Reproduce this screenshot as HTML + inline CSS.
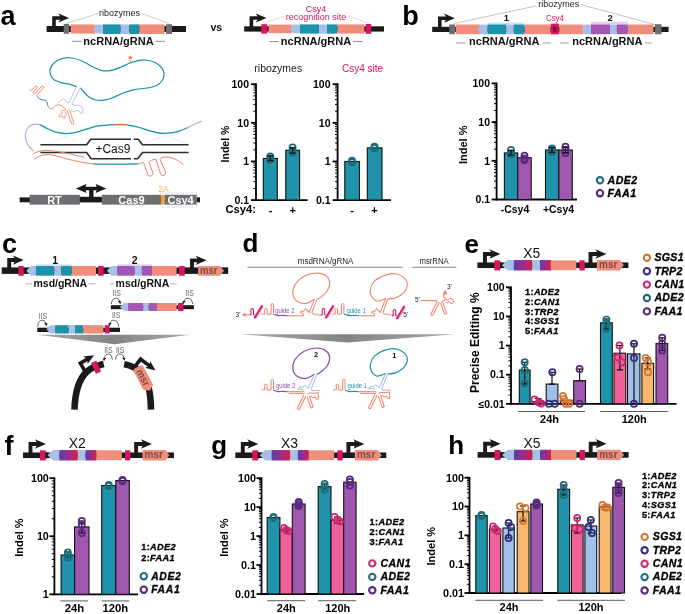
<!DOCTYPE html>
<html><head><meta charset="utf-8"><title>Figure</title>
<style>
html,body{margin:0;padding:0;background:#fff;}
body{width:685px;height:614px;overflow:hidden;font-family:'Liberation Sans', Arial, sans-serif;}
svg{display:block;font-family:"Liberation Sans", Arial, sans-serif;}
</style></head><body>
<svg width="685" height="614" viewBox="0 0 685 614">
<defs>
<linearGradient id="gr" x1="0" x2="1" y1="0" y2="0"><stop offset="0" stop-color="#5a3fa8"/><stop offset="0.55" stop-color="#a02a8c"/><stop offset="1" stop-color="#d8203f"/></linearGradient>
<linearGradient id="tri" x1="0" x2="1" y1="0" y2="0"><stop offset="0" stop-color="#a8a8a8"/><stop offset="0.5" stop-color="#858585"/><stop offset="1" stop-color="#a8a8a8"/></linearGradient>
</defs>
<rect width="685" height="614" fill="#fff"/>
<text x="0.50" y="25.00" font-size="27" font-weight="bold" font-style="normal" fill="#000" text-anchor="start" >a</text>
<text x="402.20" y="25.00" font-size="27" font-weight="bold" font-style="normal" fill="#000" text-anchor="start" >b</text>
<text x="2.10" y="252.80" font-size="27" font-weight="bold" font-style="normal" fill="#000" text-anchor="start" >c</text>
<text x="242.50" y="252.30" font-size="26" font-weight="bold" font-style="normal" fill="#000" text-anchor="start" >d</text>
<text x="464.60" y="252.60" font-size="26" font-weight="bold" font-style="normal" fill="#000" text-anchor="start" >e</text>
<text x="4.50" y="455.00" font-size="27" font-weight="bold" font-style="normal" fill="#000" text-anchor="start" >f</text>
<text x="211.30" y="453.90" font-size="26" font-weight="bold" font-style="normal" fill="#000" text-anchor="start" >g</text>
<text x="448.20" y="454.10" font-size="26" font-weight="bold" font-style="normal" fill="#000" text-anchor="start" >h</text>
<rect x="46.60" y="26.00" width="139.40" height="6.00" fill="#1a1a1a" />
<path d="M52.20 27.00 V16.20 H61.90 V19.80 H55.80 V27.00 Z" fill="#1a1a1a"/>
<path d="M69.10 18.00 L58.40 13.40 L61.10 18.00 L58.40 22.60 Z" fill="#1a1a1a"/>
<rect x="63.70" y="23.90" width="5.40" height="9.90" fill="#6d6e71" />
<rect x="70.70" y="24.40" width="24.80" height="9.20" fill="#f08d7b" />
<path d="M93.30 29.00 L96.30 24.40 H103.00 V33.60 H96.30 Z" fill="#a9bfe8"/>
<rect x="103.00" y="24.40" width="17.60" height="9.60" fill="#1a93ab" />
<rect x="120.60" y="24.40" width="8.80" height="9.60" fill="#a9bfe8" />
<rect x="129.40" y="24.40" width="10.00" height="9.60" fill="#1a93ab" />
<rect x="139.40" y="24.40" width="25.10" height="9.60" fill="#f08d7b" />
<rect x="166.00" y="24.20" width="6.00" height="9.80" fill="#6d6e71" />
<text x="119.50" y="16.30" font-size="9" font-weight="normal" font-style="normal" fill="#222" text-anchor="middle" >ribozymes</text>
<line x1="66.50" y1="23.50" x2="98.00" y2="13.50" stroke="#999" stroke-width="0.5" />
<line x1="169.00" y1="23.50" x2="142.00" y2="13.50" stroke="#999" stroke-width="0.5" />
<text x="118.50" y="44.60" font-size="11" font-weight="bold" font-style="normal" fill="#111" text-anchor="middle" >ncRNA/gRNA</text>
<line x1="72.00" y1="41.30" x2="81.50" y2="41.30" stroke="#777" stroke-width="0.8" />
<line x1="155.50" y1="41.30" x2="165.00" y2="41.30" stroke="#777" stroke-width="0.8" />
<text x="210.50" y="31.00" font-size="10.5" font-weight="bold" font-style="normal" fill="#111" text-anchor="start" >vs</text>
<rect x="244.20" y="26.30" width="139.80" height="5.30" fill="#1a1a1a" />
<path d="M249.60 27.00 V16.20 H259.30 V19.80 H253.20 V27.00 Z" fill="#1a1a1a"/>
<path d="M266.50 18.00 L255.80 13.40 L258.50 18.00 L255.80 22.60 Z" fill="#1a1a1a"/>
<rect x="261.30" y="24.20" width="5.90" height="9.40" fill="#d6145f" />
<rect x="268.50" y="24.60" width="23.50" height="8.60" fill="#f08d7b" />
<path d="M290.00 28.90 L293.00 24.60 H300.00 V33.20 H293.00 Z" fill="#a9bfe8"/>
<rect x="300.00" y="24.40" width="19.00" height="9.20" fill="#1a93ab" />
<rect x="319.00" y="24.40" width="8.00" height="9.20" fill="#a9bfe8" />
<rect x="327.00" y="24.40" width="10.50" height="9.20" fill="#1a93ab" />
<rect x="337.50" y="24.40" width="26.90" height="9.20" fill="#f08d7b" />
<rect x="365.60" y="24.00" width="5.60" height="9.80" fill="#d6145f" />
<text x="316.00" y="12.30" font-size="9" font-weight="normal" font-style="normal" fill="#d6145f" text-anchor="middle" >Csy4</text>
<text x="316.00" y="20.30" font-size="9" font-weight="normal" font-style="normal" fill="#d6145f" text-anchor="middle" >recognition site</text>
<line x1="264.00" y1="23.50" x2="284.00" y2="16.00" stroke="#d6145f" stroke-width="0.4" stroke-dasharray="1 1"/>
<line x1="368.50" y1="23.50" x2="349.00" y2="16.00" stroke="#d6145f" stroke-width="0.4" stroke-dasharray="1 1"/>
<text x="316.00" y="44.70" font-size="11" font-weight="bold" font-style="normal" fill="#111" text-anchor="middle" >ncRNA/gRNA</text>
<line x1="269.40" y1="41.50" x2="278.60" y2="41.50" stroke="#777" stroke-width="0.8" />
<line x1="353.00" y1="41.50" x2="362.50" y2="41.50" stroke="#777" stroke-width="0.8" />
<rect x="432.20" y="26.80" width="236.40" height="5.20" fill="#1a1a1a" />
<path d="M438.00 27.50 V16.40 H447.60 V20.00 H441.60 V27.50 Z" fill="#1a1a1a"/>
<path d="M454.80 18.20 L444.10 13.60 L446.80 18.20 L444.10 22.80 Z" fill="#1a1a1a"/>
<rect x="449.30" y="24.50" width="5.70" height="9.70" fill="#6d6e71" />
<rect x="455.70" y="24.50" width="24.30" height="9.70" fill="#f08d7b" />
<path d="M477.50 29.35 L480.50 24.50 H487.60 V34.20 H480.50 Z" fill="#a9bfe8"/>
<rect x="487.60" y="22.60" width="37.00" height="2.00" fill="#cfe3f3" />
<rect x="487.60" y="24.50" width="18.60" height="9.70" fill="#1a93ab" />
<rect x="506.20" y="24.50" width="7.60" height="9.70" fill="#a9bfe8" />
<rect x="513.80" y="24.50" width="10.80" height="9.70" fill="#1a93ab" />
<rect x="524.60" y="24.50" width="26.00" height="9.70" fill="#f08d7b" />
<rect x="550.80" y="23.60" width="8.10" height="10.70" fill="#d6145f" />
<rect x="553.00" y="26.80" width="3.70" height="5.20" fill="#8e0c3f" />
<rect x="559.30" y="24.50" width="24.20" height="9.70" fill="#f08d7b" />
<path d="M581.50 29.35 L584.50 24.50 H591.00 V34.20 H584.50 Z" fill="#a9bfe8"/>
<rect x="591.00" y="21.80" width="36.80" height="2.80" fill="#e3cfeb" />
<rect x="591.00" y="24.50" width="19.00" height="9.70" fill="#a257b5" />
<rect x="610.00" y="24.50" width="6.90" height="9.70" fill="#a9bfe8" />
<rect x="616.90" y="24.50" width="10.90" height="9.70" fill="#a257b5" />
<rect x="627.80" y="24.50" width="25.70" height="9.70" fill="#f08d7b" />
<rect x="655.00" y="24.20" width="6.50" height="10.10" fill="#6d6e71" />
<text x="558.80" y="7.30" font-size="9" font-weight="normal" font-style="normal" fill="#222" text-anchor="middle" >ribozymes</text>
<line x1="453.50" y1="23.70" x2="536.50" y2="5.80" stroke="#888" stroke-width="0.5" />
<line x1="656.40" y1="25.00" x2="581.00" y2="4.60" stroke="#888" stroke-width="0.5" />
<text x="506.40" y="20.90" font-size="9.5" font-weight="bold" font-style="normal" fill="#111" text-anchor="middle" >1</text>
<text x="610.10" y="21.00" font-size="9.5" font-weight="bold" font-style="normal" fill="#111" text-anchor="middle" >2</text>
<text x="554.90" y="21.40" font-size="9" font-weight="normal" font-style="normal" fill="#d6145f" text-anchor="middle" textLength="17.8" lengthAdjust="spacingAndGlyphs">Csy4</text>
<text x="504.20" y="45.40" font-size="11" font-weight="bold" font-style="normal" fill="#111" text-anchor="middle" >ncRNA/gRNA</text>
<text x="607.30" y="45.40" font-size="11" font-weight="bold" font-style="normal" fill="#111" text-anchor="middle" >ncRNA/gRNA</text>
<line x1="456.30" y1="43.00" x2="465.80" y2="43.00" stroke="#888" stroke-width="0.8" />
<line x1="542.70" y1="43.00" x2="550.60" y2="43.00" stroke="#888" stroke-width="0.8" />
<line x1="559.70" y1="43.00" x2="569.10" y2="43.00" stroke="#888" stroke-width="0.8" />
<line x1="645.10" y1="43.00" x2="652.30" y2="43.00" stroke="#888" stroke-width="0.8" />
<line x1="256.00" y1="83.30" x2="256.00" y2="201.00" stroke="#000" stroke-width="1.8" />
<line x1="255.10" y1="200.10" x2="307.60" y2="200.10" stroke="#000" stroke-width="1.8" />
<line x1="251.00" y1="84.20" x2="256.00" y2="84.20" stroke="#000" stroke-width="1.8" />
<text x="249.00" y="87.98" font-size="10.5" font-weight="bold" font-style="normal" fill="#000" text-anchor="end" >100</text>
<line x1="253.40" y1="111.20" x2="256.00" y2="111.20" stroke="#000" stroke-width="1" />
<line x1="253.40" y1="104.40" x2="256.00" y2="104.40" stroke="#000" stroke-width="1" />
<line x1="253.40" y1="99.57" x2="256.00" y2="99.57" stroke="#000" stroke-width="1" />
<line x1="253.40" y1="95.83" x2="256.00" y2="95.83" stroke="#000" stroke-width="1" />
<line x1="253.40" y1="92.77" x2="256.00" y2="92.77" stroke="#000" stroke-width="1" />
<line x1="253.40" y1="90.18" x2="256.00" y2="90.18" stroke="#000" stroke-width="1" />
<line x1="253.40" y1="87.94" x2="256.00" y2="87.94" stroke="#000" stroke-width="1" />
<line x1="253.40" y1="85.97" x2="256.00" y2="85.97" stroke="#000" stroke-width="1" />
<line x1="251.00" y1="122.83" x2="256.00" y2="122.83" stroke="#000" stroke-width="1.8" />
<text x="249.00" y="126.61" font-size="10.5" font-weight="bold" font-style="normal" fill="#000" text-anchor="end" >10</text>
<line x1="253.40" y1="149.84" x2="256.00" y2="149.84" stroke="#000" stroke-width="1" />
<line x1="253.40" y1="143.03" x2="256.00" y2="143.03" stroke="#000" stroke-width="1" />
<line x1="253.40" y1="138.21" x2="256.00" y2="138.21" stroke="#000" stroke-width="1" />
<line x1="253.40" y1="134.46" x2="256.00" y2="134.46" stroke="#000" stroke-width="1" />
<line x1="253.40" y1="131.40" x2="256.00" y2="131.40" stroke="#000" stroke-width="1" />
<line x1="253.40" y1="128.82" x2="256.00" y2="128.82" stroke="#000" stroke-width="1" />
<line x1="253.40" y1="126.58" x2="256.00" y2="126.58" stroke="#000" stroke-width="1" />
<line x1="253.40" y1="124.60" x2="256.00" y2="124.60" stroke="#000" stroke-width="1" />
<line x1="251.00" y1="161.47" x2="256.00" y2="161.47" stroke="#000" stroke-width="1.8" />
<text x="249.00" y="165.25" font-size="10.5" font-weight="bold" font-style="normal" fill="#000" text-anchor="end" >1</text>
<line x1="253.40" y1="188.47" x2="256.00" y2="188.47" stroke="#000" stroke-width="1" />
<line x1="253.40" y1="181.67" x2="256.00" y2="181.67" stroke="#000" stroke-width="1" />
<line x1="253.40" y1="176.84" x2="256.00" y2="176.84" stroke="#000" stroke-width="1" />
<line x1="253.40" y1="173.10" x2="256.00" y2="173.10" stroke="#000" stroke-width="1" />
<line x1="253.40" y1="170.04" x2="256.00" y2="170.04" stroke="#000" stroke-width="1" />
<line x1="253.40" y1="167.45" x2="256.00" y2="167.45" stroke="#000" stroke-width="1" />
<line x1="253.40" y1="165.21" x2="256.00" y2="165.21" stroke="#000" stroke-width="1" />
<line x1="253.40" y1="163.23" x2="256.00" y2="163.23" stroke="#000" stroke-width="1" />
<line x1="251.00" y1="200.10" x2="256.00" y2="200.10" stroke="#000" stroke-width="1.8" />
<text x="249.00" y="203.88" font-size="10.5" font-weight="bold" font-style="normal" fill="#000" text-anchor="end" >0.1</text>
<rect x="263.30" y="158.41" width="14.00" height="41.69" fill="#1f93ab" stroke="#111" stroke-width="1.1"/>
<rect x="285.80" y="150.26" width="13.80" height="49.84" fill="#1f93ab" stroke="#111" stroke-width="1.1"/>
<circle cx="270.30" cy="156.43" r="3.1" fill="none" stroke="#1c6d79" stroke-width="1.7"/>
<circle cx="270.30" cy="159.87" r="3.1" fill="none" stroke="#1c6d79" stroke-width="1.7"/>
<circle cx="270.30" cy="158.41" r="3.1" fill="none" stroke="#1c6d79" stroke-width="1.7"/>
<line x1="270.30" y1="155.82" x2="270.30" y2="160.65" stroke="#111" stroke-width="1.2" />
<line x1="267.10" y1="155.82" x2="273.50" y2="155.82" stroke="#111" stroke-width="1.2" />
<line x1="267.10" y1="160.65" x2="273.50" y2="160.65" stroke="#111" stroke-width="1.2" />
<circle cx="292.60" cy="147.49" r="3.1" fill="none" stroke="#1c6d79" stroke-width="1.7"/>
<circle cx="292.60" cy="152.56" r="3.1" fill="none" stroke="#1c6d79" stroke-width="1.7"/>
<circle cx="292.60" cy="150.70" r="3.1" fill="none" stroke="#1c6d79" stroke-width="1.7"/>
<line x1="292.60" y1="147.86" x2="292.60" y2="153.06" stroke="#111" stroke-width="1.2" />
<line x1="289.40" y1="147.86" x2="295.80" y2="147.86" stroke="#111" stroke-width="1.2" />
<line x1="289.40" y1="153.06" x2="295.80" y2="153.06" stroke="#111" stroke-width="1.2" />
<text x="278.30" y="71.80" font-size="10.5" font-weight="normal" font-style="normal" fill="#222" text-anchor="middle" >ribozymes</text>
<text transform="translate(229.30 144.00) rotate(-90)" font-size="10.5" font-weight="bold" fill="#000" text-anchor="middle">Indel %</text>
<text x="256.00" y="213.10" font-size="11.2" font-weight="bold" font-style="normal" fill="#000" text-anchor="end" >Csy4:</text>
<text x="270.60" y="214.00" font-size="11" font-weight="bold" font-style="normal" fill="#000" text-anchor="middle" >-</text>
<text x="292.60" y="214.00" font-size="11" font-weight="bold" font-style="normal" fill="#000" text-anchor="middle" >+</text>
<line x1="337.60" y1="83.30" x2="337.60" y2="201.00" stroke="#000" stroke-width="1.8" />
<line x1="336.70" y1="200.10" x2="391.00" y2="200.10" stroke="#000" stroke-width="1.8" />
<line x1="332.60" y1="84.20" x2="337.60" y2="84.20" stroke="#000" stroke-width="1.8" />
<text x="330.50" y="87.98" font-size="10.5" font-weight="bold" font-style="normal" fill="#000" text-anchor="end" >100</text>
<line x1="335.00" y1="111.20" x2="337.60" y2="111.20" stroke="#000" stroke-width="1" />
<line x1="335.00" y1="104.40" x2="337.60" y2="104.40" stroke="#000" stroke-width="1" />
<line x1="335.00" y1="99.57" x2="337.60" y2="99.57" stroke="#000" stroke-width="1" />
<line x1="335.00" y1="95.83" x2="337.60" y2="95.83" stroke="#000" stroke-width="1" />
<line x1="335.00" y1="92.77" x2="337.60" y2="92.77" stroke="#000" stroke-width="1" />
<line x1="335.00" y1="90.18" x2="337.60" y2="90.18" stroke="#000" stroke-width="1" />
<line x1="335.00" y1="87.94" x2="337.60" y2="87.94" stroke="#000" stroke-width="1" />
<line x1="335.00" y1="85.97" x2="337.60" y2="85.97" stroke="#000" stroke-width="1" />
<line x1="332.60" y1="122.83" x2="337.60" y2="122.83" stroke="#000" stroke-width="1.8" />
<text x="330.50" y="126.61" font-size="10.5" font-weight="bold" font-style="normal" fill="#000" text-anchor="end" >10</text>
<line x1="335.00" y1="149.84" x2="337.60" y2="149.84" stroke="#000" stroke-width="1" />
<line x1="335.00" y1="143.03" x2="337.60" y2="143.03" stroke="#000" stroke-width="1" />
<line x1="335.00" y1="138.21" x2="337.60" y2="138.21" stroke="#000" stroke-width="1" />
<line x1="335.00" y1="134.46" x2="337.60" y2="134.46" stroke="#000" stroke-width="1" />
<line x1="335.00" y1="131.40" x2="337.60" y2="131.40" stroke="#000" stroke-width="1" />
<line x1="335.00" y1="128.82" x2="337.60" y2="128.82" stroke="#000" stroke-width="1" />
<line x1="335.00" y1="126.58" x2="337.60" y2="126.58" stroke="#000" stroke-width="1" />
<line x1="335.00" y1="124.60" x2="337.60" y2="124.60" stroke="#000" stroke-width="1" />
<line x1="332.60" y1="161.47" x2="337.60" y2="161.47" stroke="#000" stroke-width="1.8" />
<text x="330.50" y="165.25" font-size="10.5" font-weight="bold" font-style="normal" fill="#000" text-anchor="end" >1</text>
<line x1="335.00" y1="188.47" x2="337.60" y2="188.47" stroke="#000" stroke-width="1" />
<line x1="335.00" y1="181.67" x2="337.60" y2="181.67" stroke="#000" stroke-width="1" />
<line x1="335.00" y1="176.84" x2="337.60" y2="176.84" stroke="#000" stroke-width="1" />
<line x1="335.00" y1="173.10" x2="337.60" y2="173.10" stroke="#000" stroke-width="1" />
<line x1="335.00" y1="170.04" x2="337.60" y2="170.04" stroke="#000" stroke-width="1" />
<line x1="335.00" y1="167.45" x2="337.60" y2="167.45" stroke="#000" stroke-width="1" />
<line x1="335.00" y1="165.21" x2="337.60" y2="165.21" stroke="#000" stroke-width="1" />
<line x1="335.00" y1="163.23" x2="337.60" y2="163.23" stroke="#000" stroke-width="1" />
<line x1="332.60" y1="200.10" x2="337.60" y2="200.10" stroke="#000" stroke-width="1.8" />
<text x="330.50" y="203.88" font-size="10.5" font-weight="bold" font-style="normal" fill="#000" text-anchor="end" >0.1</text>
<rect x="344.80" y="161.47" width="14.60" height="38.63" fill="#1f93ab" stroke="#111" stroke-width="1.1"/>
<rect x="367.30" y="147.86" width="14.70" height="52.24" fill="#1f93ab" stroke="#111" stroke-width="1.1"/>
<circle cx="352.00" cy="161.47" r="3.1" fill="none" stroke="#1c6d79" stroke-width="1.7"/>
<circle cx="352.00" cy="160.65" r="3.1" fill="none" stroke="#1c6d79" stroke-width="1.7"/>
<circle cx="352.00" cy="162.33" r="3.1" fill="none" stroke="#1c6d79" stroke-width="1.7"/>
<circle cx="374.50" cy="147.49" r="3.1" fill="none" stroke="#1c6d79" stroke-width="1.7"/>
<circle cx="374.50" cy="148.24" r="3.1" fill="none" stroke="#1c6d79" stroke-width="1.7"/>
<circle cx="374.50" cy="146.78" r="3.1" fill="none" stroke="#1c6d79" stroke-width="1.7"/>
<text x="362.50" y="71.80" font-size="10" font-weight="normal" font-style="normal" fill="#d6145f" text-anchor="middle" >Csy4 site</text>
<text x="352.00" y="214.00" font-size="11" font-weight="bold" font-style="normal" fill="#000" text-anchor="middle" >-</text>
<text x="374.50" y="214.00" font-size="11" font-weight="bold" font-style="normal" fill="#000" text-anchor="middle" >+</text>
<line x1="496.60" y1="82.50" x2="496.60" y2="200.40" stroke="#000" stroke-width="1.8" />
<line x1="495.70" y1="199.50" x2="577.00" y2="199.50" stroke="#000" stroke-width="1.8" />
<line x1="491.60" y1="83.40" x2="496.60" y2="83.40" stroke="#000" stroke-width="1.8" />
<text x="490.00" y="87.18" font-size="10.5" font-weight="bold" font-style="normal" fill="#000" text-anchor="end" >100</text>
<line x1="494.00" y1="110.45" x2="496.60" y2="110.45" stroke="#000" stroke-width="1" />
<line x1="494.00" y1="103.64" x2="496.60" y2="103.64" stroke="#000" stroke-width="1" />
<line x1="494.00" y1="98.80" x2="496.60" y2="98.80" stroke="#000" stroke-width="1" />
<line x1="494.00" y1="95.05" x2="496.60" y2="95.05" stroke="#000" stroke-width="1" />
<line x1="494.00" y1="91.99" x2="496.60" y2="91.99" stroke="#000" stroke-width="1" />
<line x1="494.00" y1="89.39" x2="496.60" y2="89.39" stroke="#000" stroke-width="1" />
<line x1="494.00" y1="87.15" x2="496.60" y2="87.15" stroke="#000" stroke-width="1" />
<line x1="494.00" y1="85.17" x2="496.60" y2="85.17" stroke="#000" stroke-width="1" />
<line x1="491.60" y1="122.10" x2="496.60" y2="122.10" stroke="#000" stroke-width="1.8" />
<text x="490.00" y="125.88" font-size="10.5" font-weight="bold" font-style="normal" fill="#000" text-anchor="end" >10</text>
<line x1="494.00" y1="149.15" x2="496.60" y2="149.15" stroke="#000" stroke-width="1" />
<line x1="494.00" y1="142.34" x2="496.60" y2="142.34" stroke="#000" stroke-width="1" />
<line x1="494.00" y1="137.50" x2="496.60" y2="137.50" stroke="#000" stroke-width="1" />
<line x1="494.00" y1="133.75" x2="496.60" y2="133.75" stroke="#000" stroke-width="1" />
<line x1="494.00" y1="130.69" x2="496.60" y2="130.69" stroke="#000" stroke-width="1" />
<line x1="494.00" y1="128.09" x2="496.60" y2="128.09" stroke="#000" stroke-width="1" />
<line x1="494.00" y1="125.85" x2="496.60" y2="125.85" stroke="#000" stroke-width="1" />
<line x1="494.00" y1="123.87" x2="496.60" y2="123.87" stroke="#000" stroke-width="1" />
<line x1="491.60" y1="160.80" x2="496.60" y2="160.80" stroke="#000" stroke-width="1.8" />
<text x="490.00" y="164.58" font-size="10.5" font-weight="bold" font-style="normal" fill="#000" text-anchor="end" >1</text>
<line x1="494.00" y1="187.85" x2="496.60" y2="187.85" stroke="#000" stroke-width="1" />
<line x1="494.00" y1="181.04" x2="496.60" y2="181.04" stroke="#000" stroke-width="1" />
<line x1="494.00" y1="176.20" x2="496.60" y2="176.20" stroke="#000" stroke-width="1" />
<line x1="494.00" y1="172.45" x2="496.60" y2="172.45" stroke="#000" stroke-width="1" />
<line x1="494.00" y1="169.39" x2="496.60" y2="169.39" stroke="#000" stroke-width="1" />
<line x1="494.00" y1="166.79" x2="496.60" y2="166.79" stroke="#000" stroke-width="1" />
<line x1="494.00" y1="164.55" x2="496.60" y2="164.55" stroke="#000" stroke-width="1" />
<line x1="494.00" y1="162.57" x2="496.60" y2="162.57" stroke="#000" stroke-width="1" />
<line x1="491.60" y1="199.50" x2="496.60" y2="199.50" stroke="#000" stroke-width="1.8" />
<text x="490.00" y="203.28" font-size="10.5" font-weight="bold" font-style="normal" fill="#000" text-anchor="end" >0.1</text>
<rect x="504.40" y="152.90" width="13.30" height="46.60" fill="#1f93ab" stroke="#111" stroke-width="1.1"/>
<rect x="517.70" y="157.74" width="13.50" height="41.76" fill="#9f58ae" stroke="#111" stroke-width="1.1"/>
<rect x="545.50" y="150.01" width="13.30" height="49.49" fill="#1f93ab" stroke="#111" stroke-width="1.1"/>
<rect x="558.80" y="150.01" width="13.50" height="49.49" fill="#9f58ae" stroke="#111" stroke-width="1.1"/>
<circle cx="511.00" cy="150.01" r="3.1" fill="none" stroke="#1c6d79" stroke-width="1.7"/>
<circle cx="511.00" cy="153.99" r="3.1" fill="none" stroke="#1c6d79" stroke-width="1.7"/>
<circle cx="511.00" cy="153.43" r="3.1" fill="none" stroke="#1c6d79" stroke-width="1.7"/>
<line x1="511.00" y1="150.46" x2="511.00" y2="155.14" stroke="#111" stroke-width="1.2" />
<line x1="507.80" y1="150.46" x2="514.20" y2="150.46" stroke="#111" stroke-width="1.2" />
<line x1="507.80" y1="155.14" x2="514.20" y2="155.14" stroke="#111" stroke-width="1.2" />
<circle cx="524.50" cy="155.76" r="3.1" fill="none" stroke="#58287c" stroke-width="1.7"/>
<circle cx="524.50" cy="158.45" r="3.1" fill="none" stroke="#58287c" stroke-width="1.7"/>
<circle cx="524.50" cy="159.98" r="3.1" fill="none" stroke="#58287c" stroke-width="1.7"/>
<circle cx="552.00" cy="148.33" r="3.1" fill="none" stroke="#1c6d79" stroke-width="1.7"/>
<circle cx="552.00" cy="151.88" r="3.1" fill="none" stroke="#1c6d79" stroke-width="1.7"/>
<circle cx="552.00" cy="150.01" r="3.1" fill="none" stroke="#1c6d79" stroke-width="1.7"/>
<line x1="552.00" y1="147.55" x2="552.00" y2="152.38" stroke="#111" stroke-width="1.2" />
<line x1="548.80" y1="147.55" x2="555.20" y2="147.55" stroke="#111" stroke-width="1.2" />
<line x1="548.80" y1="152.38" x2="555.20" y2="152.38" stroke="#111" stroke-width="1.2" />
<circle cx="565.50" cy="146.80" r="3.1" fill="none" stroke="#58287c" stroke-width="1.7"/>
<circle cx="565.50" cy="150.01" r="3.1" fill="none" stroke="#58287c" stroke-width="1.7"/>
<circle cx="565.50" cy="152.90" r="3.1" fill="none" stroke="#58287c" stroke-width="1.7"/>
<line x1="565.50" y1="147.17" x2="565.50" y2="152.90" stroke="#111" stroke-width="1.2" />
<line x1="562.30" y1="147.17" x2="568.70" y2="147.17" stroke="#111" stroke-width="1.2" />
<line x1="562.30" y1="152.90" x2="568.70" y2="152.90" stroke="#111" stroke-width="1.2" />
<text transform="translate(467.40 144.80) rotate(-90)" font-size="11" font-weight="bold" fill="#000" text-anchor="middle">Indel %</text>
<text x="515.00" y="213.00" font-size="10.5" font-weight="bold" font-style="normal" fill="#000" text-anchor="middle" >-Csy4</text>
<text x="558.50" y="213.00" font-size="10.5" font-weight="bold" font-style="normal" fill="#000" text-anchor="middle" >+Csy4</text>
<circle cx="600.00" cy="180.30" r="3.15" fill="none" stroke="#1c6d79" stroke-width="2.1"/>
<text x="607.60" y="183.60" font-size="10.6" font-weight="bold" font-style="italic" fill="#000" text-anchor="start" stroke="#000" stroke-width="0.3" letter-spacing="0.45">ADE2</text>
<circle cx="600.00" cy="193.20" r="3.15" fill="none" stroke="#58287c" stroke-width="2.1"/>
<text x="607.60" y="196.50" font-size="10.6" font-weight="bold" font-style="italic" fill="#000" text-anchor="start" stroke="#000" stroke-width="0.3" letter-spacing="0.45">FAA1</text>
<rect x="19.60" y="197.40" width="180.40" height="4.90" fill="#1a1a1a" />
<rect x="29.60" y="194.80" width="50.30" height="9.80" fill="#6d6e71" />
<rect x="79.90" y="196.80" width="21.90" height="5.40" fill="#1a1a1a" />
<rect x="101.80" y="194.80" width="59.20" height="9.80" fill="#6d6e71" />
<rect x="161.20" y="194.80" width="3.80" height="9.80" fill="#f7a234" />
<rect x="164.80" y="194.80" width="31.90" height="9.80" fill="#6d6e71" />
<rect x="161.3" y="193.1" width="35.1" height="14" fill="none" stroke="#b5b0d0" stroke-width="0.6" stroke-dasharray="1 0.8"/>
<text x="54.50" y="204.10" font-size="11" font-weight="bold" font-style="normal" fill="#fff" text-anchor="middle" >RT</text>
<text x="131.50" y="204.10" font-size="11" font-weight="bold" font-style="normal" fill="#fff" text-anchor="middle" >Cas9</text>
<text x="180.60" y="204.10" font-size="11" font-weight="bold" font-style="normal" fill="#fff" text-anchor="middle" >Csy4</text>
<text x="158.20" y="192.00" font-size="8.5" font-weight="normal" font-style="normal" fill="#f8b050" text-anchor="start" >2A</text>
<rect x="89.10" y="188.00" width="4.40" height="10.00" fill="#1a1a1a" />
<rect x="84.00" y="186.80" width="14.60" height="3.50" fill="#1a1a1a" />
<path d="M75.9 188.5 L86.5 184 L85.1 188.5 L86.5 192.9 Z" stroke="none" stroke-width="0" fill="#1a1a1a" />
<path d="M106.2 188.5 L95.7 184 L97.1 188.5 L95.7 192.9 Z" stroke="none" stroke-width="0" fill="#1a1a1a" />
<rect x="23.00" y="452.45" width="151.00" height="5.60" fill="#1a1a1a" />
<path d="M28.55 452.95 V442.10 H38.60 V446.00 H32.45 V452.95 Z" fill="#1a1a1a"/>
<path d="M46.00 444.05 L35.00 439.35 L37.80 444.05 L35.00 448.75 Z" fill="#1a1a1a"/>
<rect x="40.00" y="450.35" width="5.60" height="10.10" fill="#d6145f" />
<path d="M45.60 451.25 L49.50 455.25 L45.60 459.25 Z" stroke="none" stroke-width="0" fill="#1a1a1a" />
<path d="M47.50 455.25 L53.00 450.05 H59.60 V460.45 H53.00 Z" fill="#a9bfe8"/>
<rect x="59.40" y="450.05" width="18.4" height="10.4" fill="url(#gr)"/>
<rect x="77.80" y="450.05" width="7.80" height="10.40" fill="#a9bfe8" />
<rect x="85.60" y="450.05" width="11" height="10.4" fill="url(#gr)"/>
<rect x="96.40" y="450.35" width="25.50" height="9.80" fill="#f08d7b" />
<rect x="125.00" y="450.35" width="5.30" height="10.10" fill="#d6145f" />
<path d="M134.15 452.95 V442.10 H144.60 V446.00 H138.05 V452.95 Z" fill="#1a1a1a"/>
<path d="M152.00 444.05 L141.00 439.35 L143.80 444.05 L141.00 448.75 Z" fill="#1a1a1a"/>
<path d="M142.50 450.05 H165.40 L169.40 455.25 L165.40 460.45 H142.50 Z" fill="#f08d7b"/>
<text x="153.80" y="458.20" font-size="10.6" font-weight="bold" font-style="normal" fill="#7c4a45" text-anchor="middle" textLength="18.4" lengthAdjust="spacingAndGlyphs">msr</text>
<text x="77.30" y="448.40" font-size="15.3" font-weight="normal" font-style="normal" fill="#111" text-anchor="middle" textLength="17" lengthAdjust="spacingAndGlyphs">X2</text>
<rect x="235.30" y="452.45" width="151.00" height="5.60" fill="#1a1a1a" />
<path d="M240.85 452.95 V442.10 H250.90 V446.00 H244.75 V452.95 Z" fill="#1a1a1a"/>
<path d="M258.30 444.05 L247.30 439.35 L250.10 444.05 L247.30 448.75 Z" fill="#1a1a1a"/>
<rect x="252.30" y="450.35" width="5.60" height="10.10" fill="#d6145f" />
<path d="M257.90 451.25 L261.80 455.25 L257.90 459.25 Z" stroke="none" stroke-width="0" fill="#1a1a1a" />
<path d="M259.80 455.25 L265.30 450.05 H271.90 V460.45 H265.30 Z" fill="#a9bfe8"/>
<rect x="271.70" y="450.05" width="18.4" height="10.4" fill="url(#gr)"/>
<rect x="290.10" y="450.05" width="7.80" height="10.40" fill="#a9bfe8" />
<rect x="297.90" y="450.05" width="11" height="10.4" fill="url(#gr)"/>
<rect x="308.70" y="450.35" width="25.50" height="9.80" fill="#f08d7b" />
<rect x="337.30" y="450.35" width="5.30" height="10.10" fill="#d6145f" />
<path d="M346.45 452.95 V442.10 H356.90 V446.00 H350.35 V452.95 Z" fill="#1a1a1a"/>
<path d="M364.30 444.05 L353.30 439.35 L356.10 444.05 L353.30 448.75 Z" fill="#1a1a1a"/>
<path d="M354.80 450.05 H377.70 L381.70 455.25 L377.70 460.45 H354.80 Z" fill="#f08d7b"/>
<text x="366.10" y="458.20" font-size="10.6" font-weight="bold" font-style="normal" fill="#7c4a45" text-anchor="middle" textLength="18.4" lengthAdjust="spacingAndGlyphs">msr</text>
<text x="289.60" y="448.40" font-size="15.3" font-weight="normal" font-style="normal" fill="#111" text-anchor="middle" textLength="17" lengthAdjust="spacingAndGlyphs">X3</text>
<rect x="477.40" y="262.45" width="151.00" height="5.60" fill="#1a1a1a" />
<path d="M482.95 262.95 V252.10 H493.00 V256.00 H486.85 V262.95 Z" fill="#1a1a1a"/>
<path d="M500.40 254.05 L489.40 249.35 L492.20 254.05 L489.40 258.75 Z" fill="#1a1a1a"/>
<rect x="494.40" y="260.35" width="5.60" height="10.10" fill="#d6145f" />
<path d="M500.00 261.25 L503.90 265.25 L500.00 269.25 Z" stroke="none" stroke-width="0" fill="#1a1a1a" />
<path d="M501.90 265.25 L507.40 260.05 H514.00 V270.45 H507.40 Z" fill="#a9bfe8"/>
<rect x="513.80" y="260.05" width="18.4" height="10.4" fill="url(#gr)"/>
<rect x="532.20" y="260.05" width="7.80" height="10.40" fill="#a9bfe8" />
<rect x="540.00" y="260.05" width="11" height="10.4" fill="url(#gr)"/>
<rect x="550.80" y="260.35" width="25.50" height="9.80" fill="#f08d7b" />
<rect x="579.40" y="260.35" width="5.30" height="10.10" fill="#d6145f" />
<path d="M588.55 262.95 V252.10 H599.00 V256.00 H592.45 V262.95 Z" fill="#1a1a1a"/>
<path d="M606.40 254.05 L595.40 249.35 L598.20 254.05 L595.40 258.75 Z" fill="#1a1a1a"/>
<path d="M596.90 260.05 H619.80 L623.80 265.25 L619.80 270.45 H596.90 Z" fill="#f08d7b"/>
<text x="608.20" y="268.20" font-size="10.6" font-weight="bold" font-style="normal" fill="#7c4a45" text-anchor="middle" textLength="18.4" lengthAdjust="spacingAndGlyphs">msr</text>
<text x="531.70" y="258.40" font-size="15.3" font-weight="normal" font-style="normal" fill="#111" text-anchor="middle" textLength="17" lengthAdjust="spacingAndGlyphs">X5</text>
<rect x="477.60" y="452.10" width="151.00" height="5.60" fill="#1a1a1a" />
<path d="M483.15 452.60 V441.75 H493.20 V445.65 H487.05 V452.60 Z" fill="#1a1a1a"/>
<path d="M500.60 443.70 L489.60 439.00 L492.40 443.70 L489.60 448.40 Z" fill="#1a1a1a"/>
<rect x="494.60" y="450.00" width="5.60" height="10.10" fill="#d6145f" />
<path d="M500.20 450.90 L504.10 454.90 L500.20 458.90 Z" stroke="none" stroke-width="0" fill="#1a1a1a" />
<path d="M502.10 454.90 L507.60 449.70 H514.20 V460.10 H507.60 Z" fill="#a9bfe8"/>
<rect x="514.00" y="449.70" width="18.4" height="10.4" fill="url(#gr)"/>
<rect x="532.40" y="449.70" width="7.80" height="10.40" fill="#a9bfe8" />
<rect x="540.20" y="449.70" width="11" height="10.4" fill="url(#gr)"/>
<rect x="551.00" y="450.00" width="25.50" height="9.80" fill="#f08d7b" />
<rect x="579.60" y="450.00" width="5.30" height="10.10" fill="#d6145f" />
<path d="M588.75 452.60 V441.75 H599.20 V445.65 H592.65 V452.60 Z" fill="#1a1a1a"/>
<path d="M606.60 443.70 L595.60 439.00 L598.40 443.70 L595.60 448.40 Z" fill="#1a1a1a"/>
<path d="M597.10 449.70 H620.00 L624.00 454.90 L620.00 460.10 H597.10 Z" fill="#f08d7b"/>
<text x="608.40" y="457.85" font-size="10.6" font-weight="bold" font-style="normal" fill="#7c4a45" text-anchor="middle" textLength="18.4" lengthAdjust="spacingAndGlyphs">msr</text>
<text x="531.90" y="448.05" font-size="15.3" font-weight="normal" font-style="normal" fill="#111" text-anchor="middle" textLength="17" lengthAdjust="spacingAndGlyphs">X5</text>
<line x1="511.00" y1="286.40" x2="511.00" y2="404.70" stroke="#000" stroke-width="1.8" />
<line x1="510.10" y1="403.80" x2="676.60" y2="403.80" stroke="#000" stroke-width="1.8" />
<line x1="506.00" y1="287.30" x2="511.00" y2="287.30" stroke="#000" stroke-width="1.8" />
<text x="504.60" y="291.08" font-size="10.5" font-weight="bold" font-style="normal" fill="#000" text-anchor="end" >100</text>
<line x1="508.40" y1="307.66" x2="511.00" y2="307.66" stroke="#000" stroke-width="1" />
<line x1="508.40" y1="302.53" x2="511.00" y2="302.53" stroke="#000" stroke-width="1" />
<line x1="508.40" y1="298.89" x2="511.00" y2="298.89" stroke="#000" stroke-width="1" />
<line x1="508.40" y1="296.07" x2="511.00" y2="296.07" stroke="#000" stroke-width="1" />
<line x1="508.40" y1="293.76" x2="511.00" y2="293.76" stroke="#000" stroke-width="1" />
<line x1="508.40" y1="291.81" x2="511.00" y2="291.81" stroke="#000" stroke-width="1" />
<line x1="508.40" y1="290.12" x2="511.00" y2="290.12" stroke="#000" stroke-width="1" />
<line x1="508.40" y1="288.63" x2="511.00" y2="288.63" stroke="#000" stroke-width="1" />
<line x1="506.00" y1="316.43" x2="511.00" y2="316.43" stroke="#000" stroke-width="1.8" />
<text x="504.60" y="320.20" font-size="10.5" font-weight="bold" font-style="normal" fill="#000" text-anchor="end" >10</text>
<line x1="508.40" y1="336.78" x2="511.00" y2="336.78" stroke="#000" stroke-width="1" />
<line x1="508.40" y1="331.65" x2="511.00" y2="331.65" stroke="#000" stroke-width="1" />
<line x1="508.40" y1="328.02" x2="511.00" y2="328.02" stroke="#000" stroke-width="1" />
<line x1="508.40" y1="325.19" x2="511.00" y2="325.19" stroke="#000" stroke-width="1" />
<line x1="508.40" y1="322.89" x2="511.00" y2="322.89" stroke="#000" stroke-width="1" />
<line x1="508.40" y1="320.94" x2="511.00" y2="320.94" stroke="#000" stroke-width="1" />
<line x1="508.40" y1="319.25" x2="511.00" y2="319.25" stroke="#000" stroke-width="1" />
<line x1="508.40" y1="317.76" x2="511.00" y2="317.76" stroke="#000" stroke-width="1" />
<line x1="506.00" y1="345.55" x2="511.00" y2="345.55" stroke="#000" stroke-width="1.8" />
<text x="504.60" y="349.33" font-size="10.5" font-weight="bold" font-style="normal" fill="#000" text-anchor="end" >1</text>
<line x1="508.40" y1="365.91" x2="511.00" y2="365.91" stroke="#000" stroke-width="1" />
<line x1="508.40" y1="360.78" x2="511.00" y2="360.78" stroke="#000" stroke-width="1" />
<line x1="508.40" y1="357.14" x2="511.00" y2="357.14" stroke="#000" stroke-width="1" />
<line x1="508.40" y1="354.32" x2="511.00" y2="354.32" stroke="#000" stroke-width="1" />
<line x1="508.40" y1="352.01" x2="511.00" y2="352.01" stroke="#000" stroke-width="1" />
<line x1="508.40" y1="350.06" x2="511.00" y2="350.06" stroke="#000" stroke-width="1" />
<line x1="508.40" y1="348.37" x2="511.00" y2="348.37" stroke="#000" stroke-width="1" />
<line x1="508.40" y1="346.88" x2="511.00" y2="346.88" stroke="#000" stroke-width="1" />
<line x1="506.00" y1="374.68" x2="511.00" y2="374.68" stroke="#000" stroke-width="1.8" />
<text x="504.60" y="378.45" font-size="10.5" font-weight="bold" font-style="normal" fill="#000" text-anchor="end" >0.1</text>
<line x1="508.40" y1="395.03" x2="511.00" y2="395.03" stroke="#000" stroke-width="1" />
<line x1="508.40" y1="389.90" x2="511.00" y2="389.90" stroke="#000" stroke-width="1" />
<line x1="508.40" y1="386.27" x2="511.00" y2="386.27" stroke="#000" stroke-width="1" />
<line x1="508.40" y1="383.44" x2="511.00" y2="383.44" stroke="#000" stroke-width="1" />
<line x1="508.40" y1="381.14" x2="511.00" y2="381.14" stroke="#000" stroke-width="1" />
<line x1="508.40" y1="379.19" x2="511.00" y2="379.19" stroke="#000" stroke-width="1" />
<line x1="508.40" y1="377.50" x2="511.00" y2="377.50" stroke="#000" stroke-width="1" />
<line x1="508.40" y1="376.01" x2="511.00" y2="376.01" stroke="#000" stroke-width="1" />
<line x1="506.00" y1="403.80" x2="511.00" y2="403.80" stroke="#000" stroke-width="1.8" />
<text x="504.60" y="407.58" font-size="10.5" font-weight="bold" font-style="normal" fill="#000" text-anchor="end" >≤0.01</text>
<rect x="519.30" y="370.00" width="10.80" height="33.80" fill="#1f93ab" stroke="#111" stroke-width="1.1"/>
<rect x="532.10" y="401.60" width="11.40" height="2.20" fill="#ef6198" stroke="#111" stroke-width="1.1"/>
<rect x="546.20" y="384.10" width="11.70" height="19.70" fill="#a0c0ea" stroke="#111" stroke-width="1.1"/>
<rect x="560.30" y="400.20" width="11.70" height="3.60" fill="#f8b86d" stroke="#111" stroke-width="1.1"/>
<rect x="573.70" y="380.70" width="11.80" height="23.10" fill="#9f58ae" stroke="#111" stroke-width="1.1"/>
<rect x="600.50" y="322.80" width="11.80" height="81.00" fill="#1f93ab" stroke="#111" stroke-width="1.1"/>
<rect x="614.00" y="353.20" width="11.80" height="50.60" fill="#ef6198" stroke="#111" stroke-width="1.1"/>
<rect x="627.50" y="353.90" width="12.40" height="49.90" fill="#a0c0ea" stroke="#111" stroke-width="1.1"/>
<rect x="641.90" y="363.30" width="11.70" height="40.50" fill="#f8b86d" stroke="#111" stroke-width="1.1"/>
<rect x="656.00" y="343.60" width="11.70" height="60.20" fill="#9f58ae" stroke="#111" stroke-width="1.1"/>
<line x1="524.70" y1="362.30" x2="524.70" y2="384.00" stroke="#111" stroke-width="1.2" />
<line x1="521.50" y1="362.30" x2="527.90" y2="362.30" stroke="#111" stroke-width="1.2" />
<line x1="521.50" y1="384.00" x2="527.90" y2="384.00" stroke="#111" stroke-width="1.2" />
<circle cx="524.70" cy="362.30" r="3.1" fill="none" stroke="#1c6d79" stroke-width="1.7"/>
<circle cx="524.70" cy="370.00" r="3.1" fill="none" stroke="#1c6d79" stroke-width="1.7"/>
<circle cx="524.70" cy="383.40" r="3.1" fill="none" stroke="#1c6d79" stroke-width="1.7"/>
<line x1="538.00" y1="398.50" x2="538.00" y2="403.50" stroke="#111" stroke-width="1.2" />
<line x1="534.80" y1="398.50" x2="541.20" y2="398.50" stroke="#111" stroke-width="1.2" />
<line x1="534.80" y1="403.50" x2="541.20" y2="403.50" stroke="#111" stroke-width="1.2" />
<circle cx="534.60" cy="399.50" r="3.1" fill="none" stroke="#cc2971" stroke-width="1.7"/>
<circle cx="539.00" cy="402.50" r="3.1" fill="none" stroke="#cc2971" stroke-width="1.7"/>
<circle cx="541.30" cy="403.50" r="3.1" fill="none" stroke="#cc2971" stroke-width="1.7"/>
<line x1="552.00" y1="372.30" x2="552.00" y2="384.10" stroke="#111" stroke-width="1.2" />
<line x1="548.80" y1="372.30" x2="555.20" y2="372.30" stroke="#111" stroke-width="1.2" />
<line x1="548.80" y1="384.10" x2="555.20" y2="384.10" stroke="#111" stroke-width="1.2" />
<circle cx="552.40" cy="372.30" r="3.1" fill="none" stroke="#302e82" stroke-width="1.7"/>
<circle cx="549.00" cy="403.80" r="3.1" fill="none" stroke="#302e82" stroke-width="1.7"/>
<circle cx="554.80" cy="403.80" r="3.1" fill="none" stroke="#302e82" stroke-width="1.7"/>
<circle cx="563.00" cy="395.90" r="3.1" fill="none" stroke="#d4762f" stroke-width="1.7"/>
<circle cx="564.00" cy="399.00" r="3.1" fill="none" stroke="#d4762f" stroke-width="1.7"/>
<circle cx="565.80" cy="403.80" r="3.1" fill="none" stroke="#d4762f" stroke-width="1.7"/>
<circle cx="569.20" cy="403.80" r="3.1" fill="none" stroke="#d4762f" stroke-width="1.7"/>
<line x1="579.60" y1="369.00" x2="579.60" y2="380.70" stroke="#111" stroke-width="1.2" />
<line x1="576.40" y1="369.00" x2="582.80" y2="369.00" stroke="#111" stroke-width="1.2" />
<line x1="576.40" y1="380.70" x2="582.80" y2="380.70" stroke="#111" stroke-width="1.2" />
<circle cx="579.60" cy="369.00" r="3.1" fill="none" stroke="#58287c" stroke-width="1.7"/>
<circle cx="579.60" cy="403.80" r="3.1" fill="none" stroke="#58287c" stroke-width="1.7"/>
<line x1="606.40" y1="319.00" x2="606.40" y2="329.00" stroke="#111" stroke-width="1.2" />
<line x1="603.20" y1="319.00" x2="609.60" y2="319.00" stroke="#111" stroke-width="1.2" />
<line x1="603.20" y1="329.00" x2="609.60" y2="329.00" stroke="#111" stroke-width="1.2" />
<circle cx="606.40" cy="319.60" r="3.1" fill="none" stroke="#1c6d79" stroke-width="1.7"/>
<circle cx="606.40" cy="323.40" r="3.1" fill="none" stroke="#1c6d79" stroke-width="1.7"/>
<circle cx="606.40" cy="328.60" r="3.1" fill="none" stroke="#1c6d79" stroke-width="1.7"/>
<line x1="619.90" y1="345.50" x2="619.90" y2="370.00" stroke="#111" stroke-width="1.2" />
<line x1="616.70" y1="345.50" x2="623.10" y2="345.50" stroke="#111" stroke-width="1.2" />
<line x1="616.70" y1="370.00" x2="623.10" y2="370.00" stroke="#111" stroke-width="1.2" />
<circle cx="619.50" cy="345.50" r="3.1" fill="none" stroke="#cc2971" stroke-width="1.7"/>
<circle cx="617.90" cy="357.20" r="3.1" fill="none" stroke="#cc2971" stroke-width="1.7"/>
<circle cx="621.90" cy="362.30" r="3.1" fill="none" stroke="#cc2971" stroke-width="1.7"/>
<line x1="634.00" y1="343.80" x2="634.00" y2="403.80" stroke="#111" stroke-width="1.2" />
<line x1="630.80" y1="343.80" x2="637.20" y2="343.80" stroke="#111" stroke-width="1.2" />
<line x1="630.80" y1="403.80" x2="637.20" y2="403.80" stroke="#111" stroke-width="1.2" />
<circle cx="634.00" cy="343.80" r="3.1" fill="none" stroke="#302e82" stroke-width="1.7"/>
<circle cx="634.00" cy="357.90" r="3.1" fill="none" stroke="#302e82" stroke-width="1.7"/>
<circle cx="634.00" cy="403.80" r="3.1" fill="none" stroke="#302e82" stroke-width="1.7"/>
<line x1="647.70" y1="357.90" x2="647.70" y2="369.00" stroke="#111" stroke-width="1.2" />
<line x1="644.50" y1="357.90" x2="650.90" y2="357.90" stroke="#111" stroke-width="1.2" />
<line x1="644.50" y1="369.00" x2="650.90" y2="369.00" stroke="#111" stroke-width="1.2" />
<circle cx="645.70" cy="357.90" r="3.1" fill="none" stroke="#d4762f" stroke-width="1.7"/>
<circle cx="648.10" cy="362.30" r="3.1" fill="none" stroke="#d4762f" stroke-width="1.7"/>
<circle cx="648.10" cy="372.30" r="3.1" fill="none" stroke="#d4762f" stroke-width="1.7"/>
<line x1="662.20" y1="337.80" x2="662.20" y2="350.50" stroke="#111" stroke-width="1.2" />
<line x1="659.00" y1="337.80" x2="665.40" y2="337.80" stroke="#111" stroke-width="1.2" />
<line x1="659.00" y1="350.50" x2="665.40" y2="350.50" stroke="#111" stroke-width="1.2" />
<circle cx="662.20" cy="337.80" r="3.1" fill="none" stroke="#58287c" stroke-width="1.7"/>
<circle cx="662.20" cy="343.80" r="3.1" fill="none" stroke="#58287c" stroke-width="1.7"/>
<circle cx="662.20" cy="350.50" r="3.1" fill="none" stroke="#58287c" stroke-width="1.7"/>
<text transform="translate(478.60 342.70) rotate(-90)" font-size="12" font-weight="bold" fill="#000" text-anchor="middle">Precise Editing %</text>
<line x1="518.10" y1="411.50" x2="585.10" y2="411.50" stroke="#333" stroke-width="0.8" />
<line x1="600.10" y1="411.50" x2="667.90" y2="411.50" stroke="#333" stroke-width="0.8" />
<text x="549.50" y="422.60" font-size="11" font-weight="bold" font-style="normal" fill="#000" text-anchor="middle" >24h</text>
<text x="634.30" y="422.60" font-size="11" font-weight="bold" font-style="normal" fill="#000" text-anchor="middle" >120h</text>
<text x="525.00" y="294.90" font-size="9.2" font-weight="bold" fill="#000" stroke="#000" stroke-width="0.3" letter-spacing="0.35">1:<tspan font-style="italic">ADE2</tspan></text>
<text x="525.00" y="304.70" font-size="9.2" font-weight="bold" fill="#000" stroke="#000" stroke-width="0.3" letter-spacing="0.35">2:<tspan font-style="italic">CAN1</tspan></text>
<text x="525.00" y="314.50" font-size="9.2" font-weight="bold" fill="#000" stroke="#000" stroke-width="0.3" letter-spacing="0.35">3:<tspan font-style="italic">TRP2</tspan></text>
<text x="525.00" y="324.30" font-size="9.2" font-weight="bold" fill="#000" stroke="#000" stroke-width="0.3" letter-spacing="0.35">4:<tspan font-style="italic">SGS1</tspan></text>
<text x="525.00" y="334.10" font-size="9.2" font-weight="bold" fill="#000" stroke="#000" stroke-width="0.3" letter-spacing="0.35">5:<tspan font-style="italic">FAA1</tspan></text>
<circle cx="646.90" cy="257.80" r="3.15" fill="none" stroke="#d4762f" stroke-width="2.1"/>
<text x="654.40" y="261.10" font-size="10.6" font-weight="bold" font-style="italic" fill="#000" text-anchor="start" stroke="#000" stroke-width="0.3" letter-spacing="0.3">SGS1</text>
<circle cx="646.90" cy="271.20" r="3.15" fill="none" stroke="#302e82" stroke-width="2.1"/>
<text x="654.40" y="274.50" font-size="10.6" font-weight="bold" font-style="italic" fill="#000" text-anchor="start" stroke="#000" stroke-width="0.3" letter-spacing="0.3">TRP2</text>
<circle cx="646.90" cy="284.60" r="3.15" fill="none" stroke="#cc2971" stroke-width="2.1"/>
<text x="654.40" y="287.90" font-size="10.6" font-weight="bold" font-style="italic" fill="#000" text-anchor="start" stroke="#000" stroke-width="0.3" letter-spacing="0.3">CAN1</text>
<circle cx="646.90" cy="298.00" r="3.15" fill="none" stroke="#1c6d79" stroke-width="2.1"/>
<text x="654.40" y="301.30" font-size="10.6" font-weight="bold" font-style="italic" fill="#000" text-anchor="start" stroke="#000" stroke-width="0.3" letter-spacing="0.3">ADE2</text>
<circle cx="646.90" cy="311.40" r="3.15" fill="none" stroke="#58287c" stroke-width="2.1"/>
<text x="654.40" y="314.70" font-size="10.6" font-weight="bold" font-style="italic" fill="#000" text-anchor="start" stroke="#000" stroke-width="0.3" letter-spacing="0.3">FAA1</text>
<line x1="54.40" y1="477.30" x2="54.40" y2="595.20" stroke="#000" stroke-width="1.8" />
<line x1="53.50" y1="594.30" x2="138.00" y2="594.30" stroke="#000" stroke-width="1.8" />
<line x1="49.40" y1="478.20" x2="54.40" y2="478.20" stroke="#000" stroke-width="1.8" />
<text x="48.80" y="482.05" font-size="10.7" font-weight="bold" font-style="normal" fill="#000" text-anchor="end" >100</text>
<line x1="51.80" y1="518.78" x2="54.40" y2="518.78" stroke="#000" stroke-width="1" />
<line x1="51.80" y1="508.55" x2="54.40" y2="508.55" stroke="#000" stroke-width="1" />
<line x1="51.80" y1="501.30" x2="54.40" y2="501.30" stroke="#000" stroke-width="1" />
<line x1="51.80" y1="495.67" x2="54.40" y2="495.67" stroke="#000" stroke-width="1" />
<line x1="51.80" y1="491.08" x2="54.40" y2="491.08" stroke="#000" stroke-width="1" />
<line x1="51.80" y1="487.19" x2="54.40" y2="487.19" stroke="#000" stroke-width="1" />
<line x1="51.80" y1="483.83" x2="54.40" y2="483.83" stroke="#000" stroke-width="1" />
<line x1="51.80" y1="480.86" x2="54.40" y2="480.86" stroke="#000" stroke-width="1" />
<line x1="49.40" y1="536.25" x2="54.40" y2="536.25" stroke="#000" stroke-width="1.8" />
<text x="48.80" y="540.10" font-size="10.7" font-weight="bold" font-style="normal" fill="#000" text-anchor="end" >10</text>
<line x1="51.80" y1="576.83" x2="54.40" y2="576.83" stroke="#000" stroke-width="1" />
<line x1="51.80" y1="566.60" x2="54.40" y2="566.60" stroke="#000" stroke-width="1" />
<line x1="51.80" y1="559.35" x2="54.40" y2="559.35" stroke="#000" stroke-width="1" />
<line x1="51.80" y1="553.72" x2="54.40" y2="553.72" stroke="#000" stroke-width="1" />
<line x1="51.80" y1="549.13" x2="54.40" y2="549.13" stroke="#000" stroke-width="1" />
<line x1="51.80" y1="545.24" x2="54.40" y2="545.24" stroke="#000" stroke-width="1" />
<line x1="51.80" y1="541.88" x2="54.40" y2="541.88" stroke="#000" stroke-width="1" />
<line x1="51.80" y1="538.91" x2="54.40" y2="538.91" stroke="#000" stroke-width="1" />
<line x1="49.40" y1="594.30" x2="54.40" y2="594.30" stroke="#000" stroke-width="1.8" />
<text x="48.80" y="598.15" font-size="10.7" font-weight="bold" font-style="normal" fill="#000" text-anchor="end" >1</text>
<rect x="61.10" y="555.00" width="13.50" height="39.30" fill="#1f93ab" stroke="#111" stroke-width="1.1"/>
<rect x="74.60" y="526.90" width="14.40" height="67.40" fill="#9f58ae" stroke="#111" stroke-width="1.1"/>
<rect x="101.70" y="485.60" width="14.10" height="108.70" fill="#1f93ab" stroke="#111" stroke-width="1.1"/>
<rect x="115.80" y="480.50" width="13.50" height="113.80" fill="#9f58ae" stroke="#111" stroke-width="1.1"/>
<line x1="67.80" y1="552.00" x2="67.80" y2="557.50" stroke="#111" stroke-width="1.2" />
<line x1="64.60" y1="552.00" x2="71.00" y2="552.00" stroke="#111" stroke-width="1.2" />
<line x1="64.60" y1="557.50" x2="71.00" y2="557.50" stroke="#111" stroke-width="1.2" />
<circle cx="67.80" cy="552.50" r="3.1" fill="none" stroke="#1c6d79" stroke-width="1.7"/>
<circle cx="67.80" cy="555.00" r="3.1" fill="none" stroke="#1c6d79" stroke-width="1.7"/>
<circle cx="67.80" cy="557.50" r="3.1" fill="none" stroke="#1c6d79" stroke-width="1.7"/>
<line x1="81.80" y1="521.00" x2="81.80" y2="533.00" stroke="#111" stroke-width="1.2" />
<line x1="78.60" y1="521.00" x2="85.00" y2="521.00" stroke="#111" stroke-width="1.2" />
<line x1="78.60" y1="533.00" x2="85.00" y2="533.00" stroke="#111" stroke-width="1.2" />
<circle cx="81.80" cy="521.00" r="3.1" fill="none" stroke="#58287c" stroke-width="1.7"/>
<circle cx="81.80" cy="525.00" r="3.1" fill="none" stroke="#58287c" stroke-width="1.7"/>
<circle cx="81.80" cy="533.00" r="3.1" fill="none" stroke="#58287c" stroke-width="1.7"/>
<circle cx="108.70" cy="485.00" r="3.1" fill="none" stroke="#1c6d79" stroke-width="1.7"/>
<circle cx="108.70" cy="486.00" r="3.1" fill="none" stroke="#1c6d79" stroke-width="1.7"/>
<circle cx="122.50" cy="480.00" r="3.1" fill="none" stroke="#58287c" stroke-width="1.7"/>
<circle cx="122.50" cy="481.00" r="3.1" fill="none" stroke="#58287c" stroke-width="1.7"/>
<text transform="translate(22.60 537.60) rotate(-90)" font-size="11" font-weight="bold" fill="#000" text-anchor="middle">Indel %</text>
<line x1="60.40" y1="600.90" x2="88.00" y2="600.90" stroke="#333" stroke-width="0.8" />
<line x1="101.70" y1="600.90" x2="129.30" y2="600.90" stroke="#333" stroke-width="0.8" />
<text x="74.50" y="611.60" font-size="11.3" font-weight="bold" font-style="normal" fill="#000" text-anchor="middle" >24h</text>
<text x="115.40" y="611.60" font-size="11.3" font-weight="bold" font-style="normal" fill="#000" text-anchor="middle" >120h</text>
<text x="141.20" y="550.40" font-size="9.2" font-weight="bold" fill="#000" stroke="#000" stroke-width="0.3" letter-spacing="0.35">1:<tspan font-style="italic">ADE2</tspan></text>
<text x="141.20" y="560.60" font-size="9.2" font-weight="bold" fill="#000" stroke="#000" stroke-width="0.3" letter-spacing="0.35">2:<tspan font-style="italic">FAA1</tspan></text>
<circle cx="143.80" cy="576.20" r="3.15" fill="none" stroke="#1c6d79" stroke-width="2.1"/>
<text x="151.20" y="579.50" font-size="10.4" font-weight="bold" font-style="italic" fill="#000" text-anchor="start" stroke="#000" stroke-width="0.3" letter-spacing="0.65">ADE2</text>
<circle cx="143.80" cy="589.70" r="3.15" fill="none" stroke="#58287c" stroke-width="2.1"/>
<text x="151.20" y="593.00" font-size="10.4" font-weight="bold" font-style="italic" fill="#000" text-anchor="start" stroke="#000" stroke-width="0.3" letter-spacing="0.65">FAA1</text>
<line x1="261.50" y1="477.30" x2="261.50" y2="594.90" stroke="#000" stroke-width="1.8" />
<line x1="260.60" y1="594.00" x2="363.90" y2="594.00" stroke="#000" stroke-width="1.8" />
<line x1="256.50" y1="478.20" x2="261.50" y2="478.20" stroke="#000" stroke-width="1.8" />
<text x="256.00" y="482.09" font-size="10.8" font-weight="bold" font-style="normal" fill="#000" text-anchor="end" >100</text>
<line x1="258.90" y1="498.44" x2="261.50" y2="498.44" stroke="#000" stroke-width="1" />
<line x1="258.90" y1="493.34" x2="261.50" y2="493.34" stroke="#000" stroke-width="1" />
<line x1="258.90" y1="489.72" x2="261.50" y2="489.72" stroke="#000" stroke-width="1" />
<line x1="258.90" y1="486.91" x2="261.50" y2="486.91" stroke="#000" stroke-width="1" />
<line x1="258.90" y1="484.62" x2="261.50" y2="484.62" stroke="#000" stroke-width="1" />
<line x1="258.90" y1="482.68" x2="261.50" y2="482.68" stroke="#000" stroke-width="1" />
<line x1="258.90" y1="481.01" x2="261.50" y2="481.01" stroke="#000" stroke-width="1" />
<line x1="258.90" y1="479.52" x2="261.50" y2="479.52" stroke="#000" stroke-width="1" />
<line x1="256.50" y1="507.15" x2="261.50" y2="507.15" stroke="#000" stroke-width="1.8" />
<text x="256.00" y="511.04" font-size="10.8" font-weight="bold" font-style="normal" fill="#000" text-anchor="end" >10</text>
<line x1="258.90" y1="527.39" x2="261.50" y2="527.39" stroke="#000" stroke-width="1" />
<line x1="258.90" y1="522.29" x2="261.50" y2="522.29" stroke="#000" stroke-width="1" />
<line x1="258.90" y1="518.67" x2="261.50" y2="518.67" stroke="#000" stroke-width="1" />
<line x1="258.90" y1="515.86" x2="261.50" y2="515.86" stroke="#000" stroke-width="1" />
<line x1="258.90" y1="513.57" x2="261.50" y2="513.57" stroke="#000" stroke-width="1" />
<line x1="258.90" y1="511.63" x2="261.50" y2="511.63" stroke="#000" stroke-width="1" />
<line x1="258.90" y1="509.96" x2="261.50" y2="509.96" stroke="#000" stroke-width="1" />
<line x1="258.90" y1="508.47" x2="261.50" y2="508.47" stroke="#000" stroke-width="1" />
<line x1="256.50" y1="536.10" x2="261.50" y2="536.10" stroke="#000" stroke-width="1.8" />
<text x="256.00" y="539.99" font-size="10.8" font-weight="bold" font-style="normal" fill="#000" text-anchor="end" >1</text>
<line x1="258.90" y1="556.34" x2="261.50" y2="556.34" stroke="#000" stroke-width="1" />
<line x1="258.90" y1="551.24" x2="261.50" y2="551.24" stroke="#000" stroke-width="1" />
<line x1="258.90" y1="547.62" x2="261.50" y2="547.62" stroke="#000" stroke-width="1" />
<line x1="258.90" y1="544.81" x2="261.50" y2="544.81" stroke="#000" stroke-width="1" />
<line x1="258.90" y1="542.52" x2="261.50" y2="542.52" stroke="#000" stroke-width="1" />
<line x1="258.90" y1="540.58" x2="261.50" y2="540.58" stroke="#000" stroke-width="1" />
<line x1="258.90" y1="538.91" x2="261.50" y2="538.91" stroke="#000" stroke-width="1" />
<line x1="258.90" y1="537.42" x2="261.50" y2="537.42" stroke="#000" stroke-width="1" />
<line x1="256.50" y1="565.05" x2="261.50" y2="565.05" stroke="#000" stroke-width="1.8" />
<text x="256.00" y="568.94" font-size="10.8" font-weight="bold" font-style="normal" fill="#000" text-anchor="end" >0.1</text>
<line x1="258.90" y1="585.29" x2="261.50" y2="585.29" stroke="#000" stroke-width="1" />
<line x1="258.90" y1="580.19" x2="261.50" y2="580.19" stroke="#000" stroke-width="1" />
<line x1="258.90" y1="576.57" x2="261.50" y2="576.57" stroke="#000" stroke-width="1" />
<line x1="258.90" y1="573.76" x2="261.50" y2="573.76" stroke="#000" stroke-width="1" />
<line x1="258.90" y1="571.47" x2="261.50" y2="571.47" stroke="#000" stroke-width="1" />
<line x1="258.90" y1="569.53" x2="261.50" y2="569.53" stroke="#000" stroke-width="1" />
<line x1="258.90" y1="567.86" x2="261.50" y2="567.86" stroke="#000" stroke-width="1" />
<line x1="258.90" y1="566.37" x2="261.50" y2="566.37" stroke="#000" stroke-width="1" />
<line x1="256.50" y1="594.00" x2="261.50" y2="594.00" stroke="#000" stroke-width="1.8" />
<text x="256.00" y="597.89" font-size="10.8" font-weight="bold" font-style="normal" fill="#000" text-anchor="end" >0.01</text>
<rect x="267.20" y="517.50" width="12.70" height="76.50" fill="#1f93ab" stroke="#111" stroke-width="1.1"/>
<rect x="279.90" y="529.90" width="12.40" height="64.10" fill="#ef6198" stroke="#111" stroke-width="1.1"/>
<rect x="292.30" y="504.00" width="12.80" height="90.00" fill="#9f58ae" stroke="#111" stroke-width="1.1"/>
<rect x="318.20" y="486.60" width="12.80" height="107.40" fill="#1f93ab" stroke="#111" stroke-width="1.1"/>
<rect x="331.00" y="520.10" width="12.70" height="73.90" fill="#ef6198" stroke="#111" stroke-width="1.1"/>
<rect x="343.70" y="482.20" width="12.40" height="111.80" fill="#9f58ae" stroke="#111" stroke-width="1.1"/>
<circle cx="273.50" cy="517.00" r="3.1" fill="none" stroke="#1c6d79" stroke-width="1.7"/>
<circle cx="273.50" cy="518.00" r="3.1" fill="none" stroke="#1c6d79" stroke-width="1.7"/>
<line x1="286.00" y1="528.50" x2="286.00" y2="531.50" stroke="#111" stroke-width="1.2" />
<line x1="284.40" y1="528.50" x2="287.60" y2="528.50" stroke="#111" stroke-width="1.2" />
<line x1="284.40" y1="531.50" x2="287.60" y2="531.50" stroke="#111" stroke-width="1.2" />
<circle cx="284.00" cy="528.00" r="3.1" fill="none" stroke="#cc2971" stroke-width="1.7"/>
<circle cx="286.00" cy="530.00" r="3.1" fill="none" stroke="#cc2971" stroke-width="1.7"/>
<circle cx="288.50" cy="531.00" r="3.1" fill="none" stroke="#cc2971" stroke-width="1.7"/>
<circle cx="298.70" cy="502.00" r="3.1" fill="none" stroke="#58287c" stroke-width="1.7"/>
<circle cx="298.70" cy="504.00" r="3.1" fill="none" stroke="#58287c" stroke-width="1.7"/>
<circle cx="298.70" cy="506.00" r="3.1" fill="none" stroke="#58287c" stroke-width="1.7"/>
<line x1="324.60" y1="484.00" x2="324.60" y2="489.50" stroke="#111" stroke-width="1.2" />
<line x1="321.40" y1="484.00" x2="327.80" y2="484.00" stroke="#111" stroke-width="1.2" />
<line x1="321.40" y1="489.50" x2="327.80" y2="489.50" stroke="#111" stroke-width="1.2" />
<circle cx="324.60" cy="484.00" r="3.1" fill="none" stroke="#1c6d79" stroke-width="1.7"/>
<circle cx="324.60" cy="486.50" r="3.1" fill="none" stroke="#1c6d79" stroke-width="1.7"/>
<circle cx="324.60" cy="489.50" r="3.1" fill="none" stroke="#1c6d79" stroke-width="1.7"/>
<line x1="337.30" y1="517.00" x2="337.30" y2="523.00" stroke="#111" stroke-width="1.2" />
<line x1="334.10" y1="517.00" x2="340.50" y2="517.00" stroke="#111" stroke-width="1.2" />
<line x1="334.10" y1="523.00" x2="340.50" y2="523.00" stroke="#111" stroke-width="1.2" />
<circle cx="334.50" cy="517.00" r="3.1" fill="none" stroke="#cc2971" stroke-width="1.7"/>
<circle cx="337.30" cy="520.00" r="3.1" fill="none" stroke="#cc2971" stroke-width="1.7"/>
<circle cx="340.00" cy="521.50" r="3.1" fill="none" stroke="#cc2971" stroke-width="1.7"/>
<circle cx="349.90" cy="479.50" r="3.1" fill="none" stroke="#58287c" stroke-width="1.7"/>
<circle cx="349.90" cy="482.00" r="3.1" fill="none" stroke="#58287c" stroke-width="1.7"/>
<circle cx="349.90" cy="485.50" r="3.1" fill="none" stroke="#58287c" stroke-width="1.7"/>
<text transform="translate(228.20 537.60) rotate(-90)" font-size="11" font-weight="bold" fill="#000" text-anchor="middle">Indel %</text>
<line x1="267.20" y1="600.70" x2="305.10" y2="600.70" stroke="#333" stroke-width="0.8" />
<line x1="318.20" y1="600.70" x2="356.10" y2="600.70" stroke="#333" stroke-width="0.8" />
<text x="286.30" y="611.70" font-size="11" font-weight="bold" font-style="normal" fill="#000" text-anchor="middle" >24h</text>
<text x="337.70" y="611.70" font-size="11" font-weight="bold" font-style="normal" fill="#000" text-anchor="middle" >120h</text>
<text x="369.60" y="524.70" font-size="9.2" font-weight="bold" fill="#000" stroke="#000" stroke-width="0.3" letter-spacing="0.35">1:<tspan font-style="italic">ADE2</tspan></text>
<text x="369.60" y="534.60" font-size="9.2" font-weight="bold" fill="#000" stroke="#000" stroke-width="0.3" letter-spacing="0.35">2:<tspan font-style="italic">CAN1</tspan></text>
<text x="369.60" y="544.50" font-size="9.2" font-weight="bold" fill="#000" stroke="#000" stroke-width="0.3" letter-spacing="0.35">3:<tspan font-style="italic">FAA1</tspan></text>
<circle cx="372.30" cy="563.40" r="3.15" fill="none" stroke="#cc2971" stroke-width="2.1"/>
<text x="380.50" y="566.70" font-size="10.6" font-weight="bold" font-style="italic" fill="#000" text-anchor="start" stroke="#000" stroke-width="0.3" letter-spacing="0.4">CAN1</text>
<circle cx="372.30" cy="576.90" r="3.15" fill="none" stroke="#1c6d79" stroke-width="2.1"/>
<text x="380.50" y="580.20" font-size="10.6" font-weight="bold" font-style="italic" fill="#000" text-anchor="start" stroke="#000" stroke-width="0.3" letter-spacing="0.4">ADE2</text>
<circle cx="372.30" cy="590.30" r="3.15" fill="none" stroke="#58287c" stroke-width="2.1"/>
<text x="380.50" y="593.60" font-size="10.6" font-weight="bold" font-style="italic" fill="#000" text-anchor="start" stroke="#000" stroke-width="0.3" letter-spacing="0.4">FAA1</text>
<line x1="469.50" y1="476.80" x2="469.50" y2="593.90" stroke="#000" stroke-width="1.8" />
<line x1="468.60" y1="593.00" x2="621.20" y2="593.00" stroke="#000" stroke-width="1.8" />
<line x1="464.50" y1="477.70" x2="469.50" y2="477.70" stroke="#000" stroke-width="1.8" />
<text x="464.00" y="481.59" font-size="10.8" font-weight="bold" font-style="normal" fill="#000" text-anchor="end" >100</text>
<line x1="466.90" y1="497.85" x2="469.50" y2="497.85" stroke="#000" stroke-width="1" />
<line x1="466.90" y1="492.77" x2="469.50" y2="492.77" stroke="#000" stroke-width="1" />
<line x1="466.90" y1="489.17" x2="469.50" y2="489.17" stroke="#000" stroke-width="1" />
<line x1="466.90" y1="486.38" x2="469.50" y2="486.38" stroke="#000" stroke-width="1" />
<line x1="466.90" y1="484.09" x2="469.50" y2="484.09" stroke="#000" stroke-width="1" />
<line x1="466.90" y1="482.17" x2="469.50" y2="482.17" stroke="#000" stroke-width="1" />
<line x1="466.90" y1="480.49" x2="469.50" y2="480.49" stroke="#000" stroke-width="1" />
<line x1="466.90" y1="479.02" x2="469.50" y2="479.02" stroke="#000" stroke-width="1" />
<line x1="464.50" y1="506.52" x2="469.50" y2="506.52" stroke="#000" stroke-width="1.8" />
<text x="464.00" y="510.41" font-size="10.8" font-weight="bold" font-style="normal" fill="#000" text-anchor="end" >10</text>
<line x1="466.90" y1="526.67" x2="469.50" y2="526.67" stroke="#000" stroke-width="1" />
<line x1="466.90" y1="521.60" x2="469.50" y2="521.60" stroke="#000" stroke-width="1" />
<line x1="466.90" y1="518.00" x2="469.50" y2="518.00" stroke="#000" stroke-width="1" />
<line x1="466.90" y1="515.20" x2="469.50" y2="515.20" stroke="#000" stroke-width="1" />
<line x1="466.90" y1="512.92" x2="469.50" y2="512.92" stroke="#000" stroke-width="1" />
<line x1="466.90" y1="510.99" x2="469.50" y2="510.99" stroke="#000" stroke-width="1" />
<line x1="466.90" y1="509.32" x2="469.50" y2="509.32" stroke="#000" stroke-width="1" />
<line x1="466.90" y1="507.84" x2="469.50" y2="507.84" stroke="#000" stroke-width="1" />
<line x1="464.50" y1="535.35" x2="469.50" y2="535.35" stroke="#000" stroke-width="1.8" />
<text x="464.00" y="539.24" font-size="10.8" font-weight="bold" font-style="normal" fill="#000" text-anchor="end" >1</text>
<line x1="466.90" y1="555.50" x2="469.50" y2="555.50" stroke="#000" stroke-width="1" />
<line x1="466.90" y1="550.42" x2="469.50" y2="550.42" stroke="#000" stroke-width="1" />
<line x1="466.90" y1="546.82" x2="469.50" y2="546.82" stroke="#000" stroke-width="1" />
<line x1="466.90" y1="544.03" x2="469.50" y2="544.03" stroke="#000" stroke-width="1" />
<line x1="466.90" y1="541.74" x2="469.50" y2="541.74" stroke="#000" stroke-width="1" />
<line x1="466.90" y1="539.82" x2="469.50" y2="539.82" stroke="#000" stroke-width="1" />
<line x1="466.90" y1="538.14" x2="469.50" y2="538.14" stroke="#000" stroke-width="1" />
<line x1="466.90" y1="536.67" x2="469.50" y2="536.67" stroke="#000" stroke-width="1" />
<line x1="464.50" y1="564.17" x2="469.50" y2="564.17" stroke="#000" stroke-width="1.8" />
<text x="464.00" y="568.06" font-size="10.8" font-weight="bold" font-style="normal" fill="#000" text-anchor="end" >0.1</text>
<line x1="466.90" y1="584.32" x2="469.50" y2="584.32" stroke="#000" stroke-width="1" />
<line x1="466.90" y1="579.25" x2="469.50" y2="579.25" stroke="#000" stroke-width="1" />
<line x1="466.90" y1="575.65" x2="469.50" y2="575.65" stroke="#000" stroke-width="1" />
<line x1="466.90" y1="572.85" x2="469.50" y2="572.85" stroke="#000" stroke-width="1" />
<line x1="466.90" y1="570.57" x2="469.50" y2="570.57" stroke="#000" stroke-width="1" />
<line x1="466.90" y1="568.64" x2="469.50" y2="568.64" stroke="#000" stroke-width="1" />
<line x1="466.90" y1="566.97" x2="469.50" y2="566.97" stroke="#000" stroke-width="1" />
<line x1="466.90" y1="565.49" x2="469.50" y2="565.49" stroke="#000" stroke-width="1" />
<line x1="464.50" y1="593.00" x2="469.50" y2="593.00" stroke="#000" stroke-width="1.8" />
<text x="464.00" y="596.89" font-size="10.8" font-weight="bold" font-style="normal" fill="#000" text-anchor="end" >0.01</text>
<rect x="475.80" y="515.60" width="11.40" height="77.40" fill="#1f93ab" stroke="#111" stroke-width="1.1"/>
<rect x="489.40" y="529.10" width="11.30" height="63.90" fill="#ef6198" stroke="#111" stroke-width="1.1"/>
<rect x="502.90" y="528.00" width="11.40" height="65.00" fill="#a0c0ea" stroke="#111" stroke-width="1.1"/>
<rect x="517.20" y="511.70" width="11.80" height="81.30" fill="#f8b86d" stroke="#111" stroke-width="1.1"/>
<rect x="530.80" y="504.00" width="11.70" height="89.00" fill="#9f58ae" stroke="#111" stroke-width="1.1"/>
<rect x="557.80" y="489.30" width="11.80" height="103.70" fill="#1f93ab" stroke="#111" stroke-width="1.1"/>
<rect x="571.40" y="524.90" width="11.70" height="68.10" fill="#ef6198" stroke="#111" stroke-width="1.1"/>
<rect x="584.90" y="526.00" width="11.80" height="67.00" fill="#a0c0ea" stroke="#111" stroke-width="1.1"/>
<rect x="599.20" y="506.70" width="11.80" height="86.30" fill="#f8b86d" stroke="#111" stroke-width="1.1"/>
<rect x="612.80" y="487.40" width="11.70" height="105.60" fill="#9f58ae" stroke="#111" stroke-width="1.1"/>
<circle cx="481.50" cy="515.00" r="3.1" fill="none" stroke="#1c6d79" stroke-width="1.7"/>
<circle cx="481.50" cy="516.00" r="3.1" fill="none" stroke="#1c6d79" stroke-width="1.7"/>
<line x1="495.00" y1="526.50" x2="495.00" y2="531.00" stroke="#111" stroke-width="1.2" />
<line x1="491.80" y1="526.50" x2="498.20" y2="526.50" stroke="#111" stroke-width="1.2" />
<line x1="491.80" y1="531.00" x2="498.20" y2="531.00" stroke="#111" stroke-width="1.2" />
<circle cx="493.00" cy="526.50" r="3.1" fill="none" stroke="#cc2971" stroke-width="1.7"/>
<circle cx="495.00" cy="529.00" r="3.1" fill="none" stroke="#cc2971" stroke-width="1.7"/>
<circle cx="497.50" cy="531.00" r="3.1" fill="none" stroke="#cc2971" stroke-width="1.7"/>
<line x1="508.60" y1="523.00" x2="508.60" y2="538.00" stroke="#111" stroke-width="1.2" />
<line x1="505.40" y1="523.00" x2="511.80" y2="523.00" stroke="#111" stroke-width="1.2" />
<line x1="505.40" y1="538.00" x2="511.80" y2="538.00" stroke="#111" stroke-width="1.2" />
<circle cx="508.60" cy="523.00" r="3.1" fill="none" stroke="#302e82" stroke-width="1.7"/>
<circle cx="511.00" cy="527.00" r="3.1" fill="none" stroke="#302e82" stroke-width="1.7"/>
<circle cx="508.60" cy="538.00" r="3.1" fill="none" stroke="#302e82" stroke-width="1.7"/>
<line x1="523.00" y1="506.00" x2="523.00" y2="521.00" stroke="#111" stroke-width="1.2" />
<line x1="519.80" y1="506.00" x2="526.20" y2="506.00" stroke="#111" stroke-width="1.2" />
<line x1="519.80" y1="521.00" x2="526.20" y2="521.00" stroke="#111" stroke-width="1.2" />
<circle cx="520.00" cy="506.50" r="3.1" fill="none" stroke="#d4762f" stroke-width="1.7"/>
<circle cx="525.50" cy="508.00" r="3.1" fill="none" stroke="#d4762f" stroke-width="1.7"/>
<circle cx="523.00" cy="521.00" r="3.1" fill="none" stroke="#d4762f" stroke-width="1.7"/>
<circle cx="536.60" cy="502.50" r="3.1" fill="none" stroke="#58287c" stroke-width="1.7"/>
<circle cx="536.60" cy="504.00" r="3.1" fill="none" stroke="#58287c" stroke-width="1.7"/>
<circle cx="536.60" cy="505.50" r="3.1" fill="none" stroke="#58287c" stroke-width="1.7"/>
<line x1="563.70" y1="485.00" x2="563.70" y2="495.00" stroke="#111" stroke-width="1.2" />
<line x1="560.50" y1="485.00" x2="566.90" y2="485.00" stroke="#111" stroke-width="1.2" />
<line x1="560.50" y1="495.00" x2="566.90" y2="495.00" stroke="#111" stroke-width="1.2" />
<circle cx="563.70" cy="485.00" r="3.1" fill="none" stroke="#1c6d79" stroke-width="1.7"/>
<circle cx="563.70" cy="490.00" r="3.1" fill="none" stroke="#1c6d79" stroke-width="1.7"/>
<circle cx="563.70" cy="495.00" r="3.1" fill="none" stroke="#1c6d79" stroke-width="1.7"/>
<line x1="577.20" y1="518.00" x2="577.20" y2="533.00" stroke="#111" stroke-width="1.2" />
<line x1="574.00" y1="518.00" x2="580.40" y2="518.00" stroke="#111" stroke-width="1.2" />
<line x1="574.00" y1="533.00" x2="580.40" y2="533.00" stroke="#111" stroke-width="1.2" />
<circle cx="577.20" cy="518.00" r="3.1" fill="none" stroke="#cc2971" stroke-width="1.7"/>
<circle cx="575.00" cy="528.00" r="3.1" fill="none" stroke="#cc2971" stroke-width="1.7"/>
<circle cx="579.50" cy="529.00" r="3.1" fill="none" stroke="#cc2971" stroke-width="1.7"/>
<line x1="590.80" y1="520.00" x2="590.80" y2="533.00" stroke="#111" stroke-width="1.2" />
<line x1="587.60" y1="520.00" x2="594.00" y2="520.00" stroke="#111" stroke-width="1.2" />
<line x1="587.60" y1="533.00" x2="594.00" y2="533.00" stroke="#111" stroke-width="1.2" />
<circle cx="590.80" cy="520.00" r="3.1" fill="none" stroke="#302e82" stroke-width="1.7"/>
<circle cx="588.50" cy="527.00" r="3.1" fill="none" stroke="#302e82" stroke-width="1.7"/>
<circle cx="592.00" cy="533.00" r="3.1" fill="none" stroke="#302e82" stroke-width="1.7"/>
<circle cx="602.50" cy="505.00" r="3.1" fill="none" stroke="#d4762f" stroke-width="1.7"/>
<circle cx="605.00" cy="507.50" r="3.1" fill="none" stroke="#d4762f" stroke-width="1.7"/>
<circle cx="607.50" cy="507.50" r="3.1" fill="none" stroke="#d4762f" stroke-width="1.7"/>
<line x1="618.60" y1="483.00" x2="618.60" y2="493.00" stroke="#111" stroke-width="1.2" />
<line x1="615.40" y1="483.00" x2="621.80" y2="483.00" stroke="#111" stroke-width="1.2" />
<line x1="615.40" y1="493.00" x2="621.80" y2="493.00" stroke="#111" stroke-width="1.2" />
<circle cx="618.60" cy="483.00" r="3.1" fill="none" stroke="#58287c" stroke-width="1.7"/>
<circle cx="618.60" cy="487.00" r="3.1" fill="none" stroke="#58287c" stroke-width="1.7"/>
<circle cx="618.60" cy="493.00" r="3.1" fill="none" stroke="#58287c" stroke-width="1.7"/>
<text transform="translate(434.70 546.20) rotate(-90)" font-size="11" font-weight="bold" fill="#000" text-anchor="middle">Indel %</text>
<line x1="475.30" y1="600.30" x2="543.00" y2="600.30" stroke="#333" stroke-width="0.8" />
<line x1="557.30" y1="600.30" x2="625.00" y2="600.30" stroke="#333" stroke-width="0.8" />
<text x="509.00" y="611.40" font-size="11" font-weight="bold" font-style="normal" fill="#000" text-anchor="middle" >24h</text>
<text x="591.00" y="611.40" font-size="11" font-weight="bold" font-style="normal" fill="#000" text-anchor="middle" >120h</text>
<text x="641.90" y="478.60" font-size="9.2" font-weight="bold" fill="#000" stroke="#000" stroke-width="0.3" letter-spacing="0.35">1:<tspan font-style="italic">ADE2</tspan></text>
<text x="641.90" y="488.43" font-size="9.2" font-weight="bold" fill="#000" stroke="#000" stroke-width="0.3" letter-spacing="0.35">2:<tspan font-style="italic">CAN1</tspan></text>
<text x="641.90" y="498.26" font-size="9.2" font-weight="bold" fill="#000" stroke="#000" stroke-width="0.3" letter-spacing="0.35">3:<tspan font-style="italic">TRP2</tspan></text>
<text x="641.90" y="508.09" font-size="9.2" font-weight="bold" fill="#000" stroke="#000" stroke-width="0.3" letter-spacing="0.35">4:<tspan font-style="italic">SGS1</tspan></text>
<text x="641.90" y="517.92" font-size="9.2" font-weight="bold" fill="#000" stroke="#000" stroke-width="0.3" letter-spacing="0.35">5:<tspan font-style="italic">FAA1</tspan></text>
<circle cx="644.60" cy="536.90" r="3.15" fill="none" stroke="#d4762f" stroke-width="2.1"/>
<text x="652.80" y="540.20" font-size="10.6" font-weight="bold" font-style="italic" fill="#000" text-anchor="start" stroke="#000" stroke-width="0.3" letter-spacing="0.3">SGS1</text>
<circle cx="644.60" cy="550.30" r="3.15" fill="none" stroke="#302e82" stroke-width="2.1"/>
<text x="652.80" y="553.60" font-size="10.6" font-weight="bold" font-style="italic" fill="#000" text-anchor="start" stroke="#000" stroke-width="0.3" letter-spacing="0.3">TRP2</text>
<circle cx="644.60" cy="563.70" r="3.15" fill="none" stroke="#cc2971" stroke-width="2.1"/>
<text x="652.80" y="567.00" font-size="10.6" font-weight="bold" font-style="italic" fill="#000" text-anchor="start" stroke="#000" stroke-width="0.3" letter-spacing="0.3">CAN1</text>
<circle cx="644.60" cy="577.10" r="3.15" fill="none" stroke="#1c6d79" stroke-width="2.1"/>
<text x="652.80" y="580.40" font-size="10.6" font-weight="bold" font-style="italic" fill="#000" text-anchor="start" stroke="#000" stroke-width="0.3" letter-spacing="0.3">ADE2</text>
<circle cx="644.60" cy="590.50" r="3.15" fill="none" stroke="#58287c" stroke-width="2.1"/>
<text x="652.80" y="593.80" font-size="10.6" font-weight="bold" font-style="italic" fill="#000" text-anchor="start" stroke="#000" stroke-width="0.3" letter-spacing="0.3">FAA1</text>
<rect x="1.75" y="267.40" width="226.45" height="6.50" fill="#1a1a1a" />
<path d="M7.25 268.15 V258.10 H16.50 V262.00 H11.15 V268.15 Z" fill="#1a1a1a"/>
<path d="M23.70 260.05 L12.90 255.45 L15.70 260.05 L12.90 264.65 Z" fill="#1a1a1a"/>
<rect x="18.40" y="266.00" width="5.30" height="9.70" fill="#d6145f" />
<path d="M26.30 270.85 L30.90 266.00 H36.20 V275.70 H30.90 Z" fill="#a9bfe8"/>
<rect x="35.90" y="264.30" width="35.90" height="1.90" fill="#cfe3f3" />
<rect x="35.90" y="266.00" width="18.40" height="9.70" fill="#1a93ab" />
<rect x="54.30" y="266.00" width="7.00" height="9.70" fill="#a9bfe8" />
<rect x="61.30" y="266.00" width="10.50" height="9.70" fill="#1a93ab" />
<rect x="71.80" y="266.00" width="24.20" height="9.70" fill="#f08d7b" />
<rect x="98.10" y="266.00" width="5.60" height="9.70" fill="#d6145f" />
<path d="M106.90 270.85 L111.50 266.00 H117.60 V275.70 H111.50 Z" fill="#a9bfe8"/>
<rect x="117.30" y="264.30" width="34.70" height="1.90" fill="#e3cfeb" />
<rect x="117.30" y="266.00" width="17.30" height="9.70" fill="#a257b5" />
<rect x="134.60" y="266.00" width="7.30" height="9.70" fill="#a9bfe8" />
<rect x="141.90" y="266.00" width="10.10" height="9.70" fill="#a257b5" />
<rect x="152.00" y="266.00" width="24.60" height="9.70" fill="#f08d7b" />
<rect x="179.00" y="266.00" width="5.80" height="9.70" fill="#d6145f" />
<path d="M190.05 268.45 V258.40 H199.30 V262.30 H193.95 V268.45 Z" fill="#1a1a1a"/>
<path d="M206.50 260.35 L195.70 255.75 L198.50 260.35 L195.70 264.95 Z" fill="#1a1a1a"/>
<path d="M198.10 266.00 H220.00 L224.00 270.85 L220.00 275.70 H198.10 Z" fill="#f08d7b"/>
<text x="208.70" y="273.60" font-size="10.2" font-weight="bold" font-style="normal" fill="#7c4a45" text-anchor="middle" textLength="17.5" lengthAdjust="spacingAndGlyphs">msr</text>
<text x="55.20" y="264.00" font-size="10.5" font-weight="bold" font-style="normal" fill="#111" text-anchor="middle" >1</text>
<text x="134.70" y="263.80" font-size="10.5" font-weight="bold" font-style="normal" fill="#111" text-anchor="middle" >2</text>
<text x="60.30" y="286.70" font-size="10.5" font-weight="bold" font-style="normal" fill="#111" text-anchor="middle" >msd/gRNA</text>
<text x="142.40" y="286.60" font-size="10.5" font-weight="bold" font-style="normal" fill="#111" text-anchor="middle" >msd/gRNA</text>
<line x1="25.90" y1="283.80" x2="32.40" y2="283.80" stroke="#999" stroke-width="0.8" />
<line x1="88.50" y1="283.80" x2="95.50" y2="283.80" stroke="#999" stroke-width="0.8" />
<line x1="110.00" y1="283.80" x2="114.00" y2="283.80" stroke="#999" stroke-width="0.8" />
<line x1="170.20" y1="283.80" x2="176.60" y2="283.80" stroke="#999" stroke-width="0.8" />
<rect x="110.90" y="305.20" width="83.00" height="4.00" fill="#1a1a1a" />
<path d="M120.00 307.00 L124.00 303.00 H128.50 V311.00 H124.00 Z" fill="#a9bfe8"/>
<rect x="128.20" y="303.00" width="15.00" height="8.00" fill="#a257b5" />
<rect x="143.20" y="303.00" width="5.50" height="8.00" fill="#a9bfe8" />
<rect x="148.70" y="303.00" width="8.20" height="8.00" fill="#a257b5" />
<rect x="156.90" y="303.00" width="19.70" height="8.00" fill="#f08d7b" />
<rect x="178.00" y="303.00" width="5.50" height="8.00" fill="#d6145f" />
<rect x="37.30" y="327.70" width="82.70" height="4.30" fill="#1a1a1a" />
<path d="M46.40 329.35 L50.40 325.20 H55.50 V333.50 H50.40 Z" fill="#a9bfe8"/>
<rect x="55.20" y="325.20" width="13.50" height="8.30" fill="#1a93ab" />
<rect x="68.70" y="325.20" width="6.30" height="8.30" fill="#a9bfe8" />
<rect x="75.00" y="325.20" width="8.20" height="8.30" fill="#1a93ab" />
<rect x="83.20" y="325.20" width="20.20" height="8.30" fill="#f08d7b" />
<rect x="104.80" y="325.20" width="4.70" height="8.30" fill="#d6145f" />
<text x="43.00" y="318.50" font-size="9" font-weight="normal" font-style="normal" fill="#666" text-anchor="middle" textLength="8.5" lengthAdjust="spacingAndGlyphs">IIS</text>
<path d="M37.80 326.30 C37.80 318.50 46.30 318.50 46.30 325.00" stroke="#3a3a3a" stroke-width="0.85" fill="none" />
<path d="M46.60 326.20 l-2.6 -3.4 l3.6 0.6 Z" stroke="none" stroke-width="0" fill="#2a2a2a" />
<text x="116.20" y="318.00" font-size="9" font-weight="normal" font-style="normal" fill="#666" text-anchor="middle" textLength="8.5" lengthAdjust="spacingAndGlyphs">IIS</text>
<path d="M109.50 325.00 C109.50 318.50 118.50 318.50 118.50 326.50" stroke="#3a3a3a" stroke-width="0.85" fill="none" />
<path d="M109.20 326.20 l2.6 -3.4 l-3.6 0.6 Z" stroke="none" stroke-width="0" fill="#2a2a2a" />
<text x="116.70" y="295.70" font-size="9" font-weight="normal" font-style="normal" fill="#666" text-anchor="middle" textLength="8.5" lengthAdjust="spacingAndGlyphs">IIS</text>
<path d="M111.50 304.00 C111.50 296.50 120.00 296.50 120.00 303.00" stroke="#3a3a3a" stroke-width="0.85" fill="none" />
<path d="M120.30 304.20 l-2.6 -3.4 l3.6 0.6 Z" stroke="none" stroke-width="0" fill="#2a2a2a" />
<text x="189.70" y="295.70" font-size="9" font-weight="normal" font-style="normal" fill="#666" text-anchor="middle" textLength="8.5" lengthAdjust="spacingAndGlyphs">IIS</text>
<path d="M183.50 303.00 C183.50 296.50 192.50 296.50 192.50 304.00" stroke="#3a3a3a" stroke-width="0.85" fill="none" />
<path d="M183.20 304.20 l2.6 -3.4 l-3.6 0.6 Z" stroke="none" stroke-width="0" fill="#2a2a2a" />
<path d="M37 334.8 L190 334.8 L114.4 344.2 Z" fill="url(#tri)"/>
<text x="108.40" y="352.80" font-size="9" font-weight="normal" font-style="normal" fill="#666" text-anchor="middle" textLength="8.5" lengthAdjust="spacingAndGlyphs">IIS</text>
<text x="120.20" y="352.80" font-size="9" font-weight="normal" font-style="normal" fill="#666" text-anchor="middle" textLength="8.5" lengthAdjust="spacingAndGlyphs">IIS</text>
<path d="M104.20 360.00 C104.20 352.00 112.20 352.00 112.20 359.50" stroke="#3a3a3a" stroke-width="0.85" fill="none" />
<path d="M103.90 361.20 l2.6 -3.4 l-3.6 0.6 Z" stroke="none" stroke-width="0" fill="#2a2a2a" />
<path d="M115.60 359.50 C115.60 352.00 124.20 352.00 124.20 359.60" stroke="#3a3a3a" stroke-width="0.85" fill="none" />
<path d="M124.50 360.80 l-2.6 -3.4 l3.6 0.6 Z" stroke="none" stroke-width="0" fill="#2a2a2a" />
<path d="M74.5 409.6 C75 392 79 379 87 371.5 C92 367.3 98 365.3 103.7 364.1" stroke="#1a1a1a" stroke-width="6.6" fill="none" />
<path d="M124.2 364.1 C130 365.4 136.5 368 141.2 372.5 C147.5 379 150.8 392 151 409.6" stroke="#1a1a1a" stroke-width="6.6" fill="none" />
<g transform="translate(84.6 370.6) rotate(-30)">
<path d="M-1.80 2.00 V-10.30 H9.20 V-6.70 H1.80 V2.00 Z" fill="#1a1a1a"/>
<path d="M15.80 -8.50 L5.80 -12.80 L8.40 -8.50 L5.80 -4.20 Z" fill="#1a1a1a"/>
</g>
<g transform="translate(96.1 367.3) rotate(-24)"><rect x="-2.8" y="-5.9" width="5.6" height="11.8" fill="#d6145f"/></g>
<g transform="translate(135.4 366) rotate(37)">
<path d="M-1.80 2.00 V-10.40 H12.10 V-6.80 H1.80 V2.00 Z" fill="#1a1a1a"/>
<path d="M18.70 -8.60 L8.70 -12.90 L11.30 -8.60 L8.70 -4.30 Z" fill="#1a1a1a"/>
</g>
<g transform="translate(143.8 379) rotate(62)"><path d="M-11 -5.4 H9.5 L13 0 L9.5 5.4 H-11 Q-13.5 5.4 -13.5 3 V-3 Q-13.5 -5.4 -11 -5.4 Z" fill="#f08d7b"/><text x="-1.5" y="3.4" font-size="10.4" font-weight="bold" fill="#7c4a45" text-anchor="middle" textLength="17.5" lengthAdjust="spacingAndGlyphs">msr</text></g>
<text x="325.60" y="263.70" font-size="8.5" font-weight="normal" font-style="normal" fill="#222" text-anchor="middle" textLength="55.8" lengthAdjust="spacingAndGlyphs">msdRNA/gRNA</text>
<text x="434.10" y="263.70" font-size="8.5" font-weight="normal" font-style="normal" fill="#222" text-anchor="middle" textLength="29.3" lengthAdjust="spacingAndGlyphs">msrRNA</text>
<line x1="247.40" y1="267.30" x2="402.60" y2="267.30" stroke="#8a8a8a" stroke-width="1" />
<line x1="412.60" y1="267.30" x2="456.30" y2="267.30" stroke="#8a8a8a" stroke-width="1" />
<path d="M249.80 314.80 L251.00 314.80 V309.85 a1.25 1.25 0 0 1 2.50 0 V314.80 L254.60 314.80" stroke="#d6145f" stroke-width="1.05" fill="none" />
<line x1="254.30" y1="318.20" x2="262.30" y2="305.30" stroke="#d6145f" stroke-width="1.9" />
<line x1="255.90" y1="318.60" x2="263.30" y2="306.80" stroke="#d6145f" stroke-width="0.5" />
<path d="M261.30 313.60 l1 0.9 l1 -0.9 L264.70 314.20 V309.60 a1.20 1.20 0 0 1 2.40 0 V314.20 L271.10 314.20 V304.70 a1.20 1.20 0 0 1 2.40 0 V314.20" stroke="#ee8068" stroke-width="1.0" fill="none" stroke-linejoin="round"/>
<path d="M273.50 314.20 C274.25 314.43 276.42 315.40 278.00 315.60 C279.58 315.80 281.33 315.37 283.00 315.40 C284.67 315.43 287.17 315.73 288.00 315.80" stroke="#8a4aa8" stroke-width="1.1" fill="none" />
<text x="284.90" y="312.90" font-size="7" font-weight="normal" font-style="normal" fill="#8a4aa8" text-anchor="middle" textLength="19.4" lengthAdjust="spacingAndGlyphs">guide 2</text>
<path d="M288.00 315.8 H303.50 V314 L300.00 312.3 L302.00 311 L303.20 311.8 L305.70 308.4 L307.00 311 L308.00 310.5 L309.00 312.8 L314.50 299.30" stroke="#ee8068" stroke-width="1.0" fill="none" stroke-linejoin="round"/>
<path d="M314.50 299.30 C313.03 300.00 308.65 303.20 305.70 303.50 C302.75 303.80 298.95 302.70 296.80 301.10 C294.65 299.50 293.07 296.70 292.80 293.90 C292.53 291.10 293.32 287.25 295.20 284.30 C297.08 281.35 300.48 278.08 304.10 276.20 C307.72 274.32 313.17 273.00 316.90 273.00 C320.63 273.00 324.37 274.58 326.50 276.20 C328.63 277.82 329.57 280.28 329.70 282.70 C329.83 285.12 328.63 288.43 327.30 290.70 C325.97 292.97 323.43 294.83 321.70 296.30 C319.97 297.77 317.70 298.97 316.90 299.50" stroke="#ee8068" stroke-width="1.05" fill="none" />
<path d="M316.90 299.50 L311.90 312.6 L313.00 314.4 L314.50 313.6 L316.00 315 L317.50 314 L319.00 315.2 L322.30 314.8" stroke="#ee8068" stroke-width="1.0" fill="none" stroke-linejoin="round"/>
<path d="M321.00 314.80 L322.20 314.80 V309.85 a1.25 1.25 0 0 1 2.50 0 V314.80 L325.80 314.80" stroke="#d6145f" stroke-width="1.05" fill="none" />
<line x1="325.50" y1="318.20" x2="333.50" y2="305.30" stroke="#d6145f" stroke-width="1.9" />
<line x1="327.10" y1="318.60" x2="334.50" y2="306.80" stroke="#d6145f" stroke-width="0.5" />
<path d="M331.70 313.60 l1 0.9 l1 -0.9 L335.10 314.20 V309.60 a1.20 1.20 0 0 1 2.40 0 V314.20 L341.50 314.20 V304.70 a1.20 1.20 0 0 1 2.40 0 V314.20" stroke="#ee8068" stroke-width="1.0" fill="none" stroke-linejoin="round"/>
<path d="M343.90 314.20 C344.78 314.43 347.48 315.40 349.20 315.60 C350.92 315.80 352.53 315.37 354.20 315.40 C355.87 315.43 358.37 315.73 359.20 315.80" stroke="#1a93ab" stroke-width="1.1" fill="none" />
<text x="356.10" y="312.90" font-size="7" font-weight="normal" font-style="normal" fill="#1a93ab" text-anchor="middle" textLength="19.4" lengthAdjust="spacingAndGlyphs">guide 1</text>
<path d="M359.20 315.8 H374.70 V314 L371.20 312.3 L373.20 311 L374.40 311.8 L376.90 308.4 L378.20 311 L379.20 310.5 L380.20 312.8 L385.70 298.60" stroke="#ee8068" stroke-width="1.0" fill="none" stroke-linejoin="round"/>
<path d="M385.70 298.60 C384.22 299.02 379.22 301.62 376.80 301.10 C374.38 300.58 372.27 297.50 371.20 295.50 C370.13 293.50 369.87 291.50 370.40 289.10 C370.93 286.70 372.12 283.38 374.40 281.10 C376.68 278.82 380.62 276.62 384.10 275.40 C387.58 274.18 391.83 273.25 395.30 273.80 C398.77 274.35 402.90 276.68 404.90 278.70 C406.90 280.72 407.57 283.50 407.30 285.90 C407.03 288.30 405.30 291.10 403.30 293.10 C401.30 295.10 397.92 296.92 395.30 297.90 C392.68 298.88 388.88 298.82 387.60 299.00" stroke="#ee8068" stroke-width="1.05" fill="none" />
<path d="M387.60 299.00 L383.10 312.6 L384.20 314.4 L385.70 313.6 L387.20 315 L388.70 314 L390.20 315.2 L393.50 314.8" stroke="#ee8068" stroke-width="1.0" fill="none" stroke-linejoin="round"/>
<path d="M392.00 315.60 L393.20 315.60 V310.65 a1.25 1.25 0 0 1 2.50 0 V315.60 L396.80 315.60" stroke="#d6145f" stroke-width="1.05" fill="none" />
<line x1="396.50" y1="319.00" x2="404.50" y2="306.10" stroke="#d6145f" stroke-width="1.9" />
<line x1="398.10" y1="319.40" x2="405.50" y2="307.60" stroke="#d6145f" stroke-width="0.5" />
<text x="235.60" y="316.60" font-size="6.5" font-weight="normal" font-style="normal" fill="#222" text-anchor="start" >3'</text>
<text x="403.30" y="316.60" font-size="6.5" font-weight="normal" font-style="normal" fill="#222" text-anchor="start" >5'</text>
<text x="415.00" y="302.30" font-size="6.5" font-weight="normal" font-style="normal" fill="#222" text-anchor="start" >5'</text>
<text x="447.00" y="288.50" font-size="6.5" font-weight="normal" font-style="normal" fill="#222" text-anchor="start" >3'</text>
<line x1="244.00" y1="314.80" x2="250.00" y2="314.80" stroke="#ee8068" stroke-width="1.05" />
<path d="M241.8 314.8 L246 312.6 L245.2 314.8 L246 317 Z" stroke="none" stroke-width="0" fill="#ee8068" />
<line x1="420.40" y1="300.60" x2="437.00" y2="300.60" stroke="#ee8068" stroke-width="1.05" />
<g transform="translate(438.40 301.60) rotate(26.5)"><path d="M-1.15 0 V14.2 a1.15 1.15 0 0 0 2.3 0 V0" fill="none" stroke="#ee8068" stroke-width="1.0"/></g>
<g transform="translate(441.70 302.60) rotate(-19)"><path d="M-1.15 0 V11 a1.15 1.15 0 0 0 2.3 0 V0" fill="none" stroke="#ee8068" stroke-width="1.0"/></g>
<path d="M441.5 302.5 L443 300.2 L444.5 300.8 L445.5 298.5 L447.2 300.6 L449 299 L451 298.2 L453 299.6 L453.7 302 L452 303.8 L450.3 303.2 L449 301.4 L447.5 302.8 L445.8 302" stroke="#ee8068" stroke-width="1.0" fill="none" stroke-linejoin="round"/>
<path d="M445.5 298.5 L443.6 296.8 L444 294" stroke="#ee8068" stroke-width="1.05" fill="none" />
<path d="M445.2 289.6 L442.6 294.6 L447.4 294.2 Z" stroke="none" stroke-width="0" fill="#ee8068" />
<path d="M240 334.2 L455.5 334.2 L347.7 342.4 Z" fill="url(#tri)"/>
<path d="M261.30 389.40 l1 0.9 l1 -0.9 L264.70 390.00 V385.40 a1.20 1.20 0 0 1 2.40 0 V390.00 L271.10 390.00 V380.50 a1.20 1.20 0 0 1 2.40 0 V390.00" stroke="#ee8068" stroke-width="1.0" fill="none" stroke-linejoin="round"/>
<path d="M273.50 390.30 C274.25 390.52 276.42 391.42 278.00 391.60 C279.58 391.78 281.33 391.37 283.00 391.40 C284.67 391.43 287.17 391.73 288.00 391.80" stroke="#8a4aa8" stroke-width="1.1" fill="none" />
<text x="285.60" y="388.40" font-size="7" font-weight="normal" font-style="normal" fill="#8a4aa8" text-anchor="middle" textLength="19.2" lengthAdjust="spacingAndGlyphs">guide 2</text>
<path d="M288.00 391.7 H304.50 M288.60 393.3 H304.50" stroke="#ee8068" stroke-width="1.0" fill="none" />
<path d="M314.50 374.30 C313.03 375.00 308.65 378.20 305.70 378.50 C302.75 378.80 298.95 377.70 296.80 376.10 C294.65 374.50 293.07 371.70 292.80 368.90 C292.53 366.10 293.32 362.25 295.20 359.30 C297.08 356.35 300.48 353.08 304.10 351.20 C307.72 349.32 313.17 348.00 316.90 348.00 C320.63 348.00 324.37 349.58 326.50 351.20 C328.63 352.82 329.57 355.28 329.70 357.70 C329.83 360.12 328.63 363.43 327.30 365.70 C325.97 367.97 323.43 369.83 321.70 371.30 C319.97 372.77 317.70 373.97 316.90 374.50" stroke="#8a4aa8" stroke-width="1.2" fill="none" />
<path d="M314.50 374.30 L308.10 388.30 L306.50 386.90 L304.50 385.50 L302.50 387.30 L300.00 386.90 L297.50 388.90 L303.50 389.90" stroke="#9db6e6" stroke-width="1.0" fill="none" stroke-linejoin="round"/>
<path d="M316.90 374.50 L311.10 389.10 L311.90 390.70 H319.90" stroke="#9db6e6" stroke-width="1.0" fill="none" stroke-linejoin="round"/>
<g transform="translate(304.90 395.50) rotate(26.5)"><path d="M-1.15 0 V14.2 a1.15 1.15 0 0 0 2.3 0 V0" fill="none" stroke="#ee8068" stroke-width="1.0"/></g>
<g transform="translate(308.20 396.50) rotate(-19)"><path d="M-1.15 0 V11 a1.15 1.15 0 0 0 2.3 0 V0" fill="none" stroke="#ee8068" stroke-width="1.0"/></g>
<path d="M307.50 394.10 L309.90 392.90 L313.90 393.30 L318.20 392.70 L318.50 398.90 L316.40 399.30 L315.50 396.90 L312.90 397.90 L311.30 395.90 L309.50 397.10" stroke="#ee8068" stroke-width="1.0" fill="none" stroke-linejoin="round"/>
<text x="316.10" y="357.00" font-size="7.5" font-weight="bold" font-style="normal" fill="#111" text-anchor="middle" >2</text>
<path d="M332.90 389.40 l1 0.9 l1 -0.9 L336.30 390.00 V385.40 a1.20 1.20 0 0 1 2.40 0 V390.00 L342.70 390.00 V380.50 a1.20 1.20 0 0 1 2.40 0 V390.00" stroke="#ee8068" stroke-width="1.0" fill="none" stroke-linejoin="round"/>
<path d="M345.10 390.30 C345.85 390.52 348.02 391.42 349.60 391.60 C351.18 391.78 352.93 391.37 354.60 391.40 C356.27 391.43 358.77 391.73 359.60 391.80" stroke="#1a93ab" stroke-width="1.1" fill="none" />
<text x="357.20" y="388.40" font-size="7" font-weight="normal" font-style="normal" fill="#1a93ab" text-anchor="middle" textLength="19.2" lengthAdjust="spacingAndGlyphs">guide 1</text>
<path d="M359.60 391.7 H376.10 M360.20 393.3 H376.10" stroke="#ee8068" stroke-width="1.0" fill="none" />
<path d="M385.70 373.60 C384.22 374.02 379.22 376.62 376.80 376.10 C374.38 375.58 372.27 372.50 371.20 370.50 C370.13 368.50 369.87 366.50 370.40 364.10 C370.93 361.70 372.12 358.38 374.40 356.10 C376.68 353.82 380.62 351.62 384.10 350.40 C387.58 349.18 391.83 348.25 395.30 348.80 C398.77 349.35 402.90 351.68 404.90 353.70 C406.90 355.72 407.57 358.50 407.30 360.90 C407.03 363.30 405.30 366.10 403.30 368.10 C401.30 370.10 397.92 371.92 395.30 372.90 C392.68 373.88 388.88 373.82 387.60 374.00" stroke="#1a93ab" stroke-width="1.2" fill="none" />
<path d="M385.70 373.60 L379.30 387.60 L377.70 386.20 L375.70 384.80 L373.70 386.60 L371.20 386.20 L368.70 388.20 L374.70 389.20" stroke="#9db6e6" stroke-width="1.0" fill="none" stroke-linejoin="round"/>
<path d="M387.60 374.00 L381.80 388.60 L382.60 390.20 H390.60" stroke="#9db6e6" stroke-width="1.0" fill="none" stroke-linejoin="round"/>
<g transform="translate(376.10 394.80) rotate(26.5)"><path d="M-1.15 0 V14.2 a1.15 1.15 0 0 0 2.3 0 V0" fill="none" stroke="#ee8068" stroke-width="1.0"/></g>
<g transform="translate(379.40 395.80) rotate(-19)"><path d="M-1.15 0 V11 a1.15 1.15 0 0 0 2.3 0 V0" fill="none" stroke="#ee8068" stroke-width="1.0"/></g>
<path d="M378.70 393.40 L381.10 392.20 L385.10 392.60 L389.40 392.00 L389.70 398.20 L387.60 398.60 L386.70 396.20 L384.10 397.20 L382.50 395.20 L380.70 396.40" stroke="#ee8068" stroke-width="1.0" fill="none" stroke-linejoin="round"/>
<text x="394.40" y="357.60" font-size="7.5" font-weight="bold" font-style="normal" fill="#111" text-anchor="middle" >1</text>
<path d="M76.50 86.60 C75.42 86.22 72.42 84.93 70.00 84.30 C67.58 83.67 64.58 83.52 62.00 82.80 C59.42 82.08 56.37 81.22 54.50 80.00 C52.63 78.78 51.52 77.33 50.80 75.50 C50.08 73.67 49.50 71.25 50.20 69.00 C50.90 66.75 52.70 63.80 55.00 62.00 C57.30 60.20 61.17 58.87 64.00 58.20 C66.83 57.53 69.00 57.53 72.00 58.00 C75.00 58.47 78.67 59.58 82.00 61.00 C85.33 62.42 88.83 64.95 92.00 66.50 C95.17 68.05 98.00 69.62 101.00 70.30 C104.00 70.98 106.83 71.07 110.00 70.60 C113.17 70.13 116.67 68.77 120.00 67.50 C123.33 66.23 127.00 64.15 130.00 63.00 C133.00 61.85 135.33 61.10 138.00 60.60 C140.67 60.10 143.17 59.68 146.00 60.00 C148.83 60.32 152.42 61.25 155.00 62.50 C157.58 63.75 160.00 65.65 161.50 67.50 C163.00 69.35 163.83 71.52 164.00 73.60 C164.17 75.68 163.73 78.02 162.50 80.00 C161.27 81.98 159.18 84.17 156.60 85.50 C154.02 86.83 150.93 87.28 147.00 88.00 C143.07 88.72 137.17 88.88 133.00 89.80 C128.83 90.72 125.50 92.13 122.00 93.50 C118.50 94.87 115.00 96.88 112.00 98.00 C109.00 99.12 106.67 99.87 104.00 100.20 C101.33 100.53 98.50 100.53 96.00 100.00 C93.50 99.47 91.00 98.33 89.00 97.00 C87.00 95.67 85.42 93.53 84.00 92.00 C82.58 90.47 81.08 88.50 80.50 87.80" stroke="#1a93ab" stroke-width="1.25" fill="none" />
<path d="M131 62.8 L130.8 60.2" stroke="#f26522" stroke-width="1.0" fill="none" />
<polygon points="130.3,55 130.9,56.7 132.7,56.7 131.3,57.8 131.8,59.5 130.3,58.5 128.8,59.5 129.3,57.8 127.9,56.7 129.7,56.7" fill="#f26522"/>
<path d="M76.5 86.6 L69.3 102.2 M80.5 87.8 L71.8 104.2" stroke="#a9b4e6" stroke-width="0.8" fill="none" />
<g transform="translate(29.6 89.2) rotate(42)"><path d="M0 0 H2.2 V-5.8 a1.2 1.2 0 0 1 2.4 0 V0 H7 V-10 a1.2 1.2 0 0 1 2.4 0 V0 H10.6" fill="none" stroke="#ee8068" stroke-width="0.9" stroke-linejoin="round"/></g>
<path d="M37.40 96.40 C37.75 96.80 38.65 98.23 39.50 98.80 C40.35 99.37 41.55 99.52 42.50 99.80 C43.45 100.08 44.42 100.05 45.20 100.50 C45.98 100.95 46.77 101.67 47.20 102.50 C47.63 103.33 47.57 104.75 47.80 105.50 C48.03 106.25 48.47 106.75 48.60 107.00" stroke="#1a93ab" stroke-width="1.0" fill="none" />
<path d="M48.60 107.00 C48.92 107.27 49.77 108.40 50.50 108.60 C51.23 108.80 52.17 108.67 53.00 108.20 C53.83 107.73 54.58 106.37 55.50 105.80 C56.42 105.23 57.50 104.83 58.50 104.80 C59.50 104.77 60.58 105.10 61.50 105.60 C62.42 106.10 63.22 107.13 64.00 107.80 C64.78 108.47 65.83 109.30 66.20 109.60" stroke="#ee8068" stroke-width="0.9" fill="none" />
<path d="M57.7 103.2 L60 101.2 L63.3 98.8 L65.5 100.2 L67 102.6 L69.3 102.2 M71.8 104.2 L75 105.4 L78.5 105.4 L81 106.2 L82.8 108.2 L82.9 112.4 L80.5 113.4 L79 111 L77 110.2 L74.5 111.8 L72.5 111.2 L71 109.8" stroke="#a9b4e6" stroke-width="0.8" fill="none" stroke-linejoin="round"/>
<g transform="translate(68.4 110) rotate(-17.5)"><path d="M-1.2 0 V13.6 a1.2 1.2 0 0 0 2.4 0 V0" fill="none" stroke="#ee8068" stroke-width="0.8"/></g>
<path d="M66.2 109.6 L64 111 L62.4 110 L61.2 111.6 L62.6 112.8 L60 114.4 L58.8 116.6 L60.6 117 L62 115.6 L62.8 117.6 L64.4 118.4 L64.8 116 L66.4 114.6 L65.4 113 L67 111.4" stroke="#ee8068" stroke-width="0.8" fill="none" stroke-linejoin="round"/>
<path d="M33.80 151.20 C33.08 150.50 30.63 148.37 29.50 147.00 C28.37 145.63 27.70 145.02 27.00 143.00 C26.30 140.98 25.00 137.62 25.30 134.90 C25.60 132.18 27.15 128.50 28.80 126.70 C30.45 124.90 33.35 124.45 35.20 124.10 C37.05 123.75 39.12 124.52 39.90 124.60" stroke="#a9b4e6" stroke-width="1.2" fill="none" />
<path d="M39.90 124.60 C41.07 125.23 44.38 127.18 46.90 128.40 C49.42 129.62 52.08 131.05 55.00 131.90 C57.92 132.75 61.28 133.35 64.40 133.50 C67.52 133.65 70.58 133.35 73.70 132.80 C76.82 132.25 79.98 131.12 83.10 130.20 C86.22 129.28 89.58 128.05 92.40 127.30 C95.22 126.55 96.35 126.13 100.00 125.70 C103.65 125.27 111.92 124.87 114.30 124.70" stroke="#1a93ab" stroke-width="1.3" fill="none" />
<path d="M114.3 124.7 C118 124.4 123 124.4 126.8 124.8" stroke="#f26522" stroke-width="1.4" fill="none" />
<path d="M126.80 124.80 C127.83 125.00 130.92 125.55 133.00 126.00 C135.08 126.45 136.63 126.73 139.30 127.50 C141.97 128.27 145.77 129.68 149.00 130.60 C152.23 131.52 155.70 132.57 158.70 133.00 C161.70 133.43 164.23 133.33 167.00 133.20 C169.77 133.07 172.80 132.73 175.30 132.20 C177.80 131.67 179.92 130.78 182.00 130.00 C184.08 129.22 186.83 127.92 187.80 127.50" stroke="#1a93ab" stroke-width="1.3" fill="none" />
<path d="M187.80 127.50 C188.67 127.08 191.38 125.75 193.00 125.00 C194.62 124.25 196.05 123.65 197.50 123.00 C198.95 122.35 201.00 121.42 201.70 121.10" stroke="#a9b4e6" stroke-width="1.2" fill="none" />
<path d="M40.4 144.8 H86.6 L90.9 139.2 H131 M133.7 139.2 H138.2 L142.5 144.8 H188.7" stroke="#2d2d2d" stroke-width="1.6" fill="none" stroke-linejoin="round"/>
<path d="M40.4 152.5 H86.6 L91.2 158.7 H131 M133.7 158.7 H137.6 L142.5 152.5 H188.7" stroke="#2d2d2d" stroke-width="1.6" fill="none" stroke-linejoin="round"/>
<text x="112.90" y="153.20" font-size="12" font-weight="normal" font-style="normal" fill="#111" text-anchor="middle" >+Cas9</text>
<path d="M32.60 154.10 C33.42 153.72 35.42 152.42 37.50 151.80 C39.58 151.18 42.18 150.50 45.10 150.40 C48.02 150.30 51.40 150.72 55.00 151.20 C58.60 151.68 62.80 152.52 66.70 153.30 C70.60 154.08 75.48 155.23 78.40 155.90 C81.32 156.57 83.23 157.07 84.20 157.30" stroke="#ee8068" stroke-width="1.0" fill="none" />
<path d="M34.20 159.40 C34.95 158.92 36.88 157.28 38.70 156.50 C40.52 155.72 42.57 154.90 45.10 154.70 C47.63 154.50 50.30 154.62 53.90 155.30 C57.50 155.98 62.62 157.73 66.70 158.80 C70.78 159.87 74.50 160.92 78.40 161.70 C82.30 162.48 87.67 163.15 90.10 163.50 C92.53 163.85 92.52 163.75 93.00 163.80" stroke="#ee8068" stroke-width="1.0" fill="none" />
<path d="M93 163.8 C105 164.4 125 164.2 138.4 163.9" stroke="#1a93ab" stroke-width="1.3" fill="none" />
<path d="M138.4 163.9 C140.5 163.6 141.5 162.4 143.7 162.8 L147 172 C147.3 174.5 148.6 176.2 150 176.2 C151.8 176.2 153.2 174.5 152.8 172.4 L148.9 162.4 C150 160.5 153.5 159.3 155.9 159.3 L159.8 171.4 C160.2 174 161.3 175.6 162.8 175.6 C164.6 175.6 165.9 173.8 165.5 171.8 L160.2 159.6 C160.6 157.6 163.5 157 166 157 C172.5 157.2 178.5 160 183.4 164.8" stroke="#ee8068" stroke-width="1.0" fill="none" stroke-linejoin="round"/>
<path d="M46.9 143 L70 136 M63 136 L76 141 M143.4 144.1 L165 135.5 L189 144.1" stroke="#f3d9dc" stroke-width="0.5" fill="none" />
</svg>
</body></html>
